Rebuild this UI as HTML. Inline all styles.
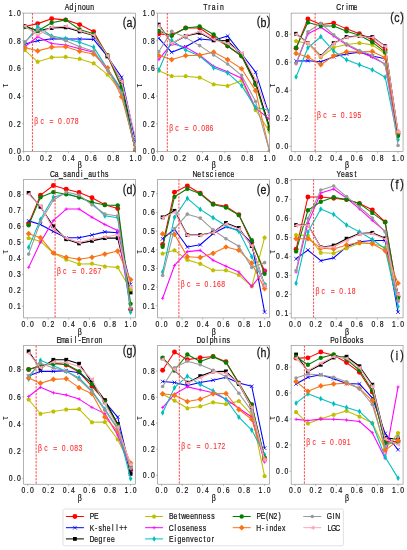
<!DOCTYPE html>
<html lang="en"><head><meta charset="utf-8"><title>Centrality comparison</title>
<style>html,body{margin:0;padding:0;background:#fff}svg{display:block}</style></head>
<body>
<svg width="407" height="550" viewBox="0 0 407 550" font-family='"Liberation Sans", "Noto Sans CJK SC", sans-serif'>
<rect width="407" height="550" fill="#fff"/>
<g id="panel-a">
<clipPath id="cpa"><rect x="23.7" y="13.1" width="111.90" height="138.40"/></clipPath>
<g clip-path="url(#cpa)">
<polyline points="24.82,26.52 37.69,23.62 51.67,18.64 65.66,19.88 79.65,24.59 93.64,31.65 107.62,56.00 121.61,87.84 135.60,151.50" fill="none" stroke="#ff0000" stroke-width="1.08" stroke-linejoin="round"/>
<circle cx="24.82" cy="26.52" r="2.45" fill="#ff0000"/>
<circle cx="37.69" cy="23.62" r="2.45" fill="#ff0000"/>
<circle cx="51.67" cy="18.64" r="2.45" fill="#ff0000"/>
<circle cx="65.66" cy="19.88" r="2.45" fill="#ff0000"/>
<circle cx="79.65" cy="24.59" r="2.45" fill="#ff0000"/>
<circle cx="93.64" cy="31.65" r="2.45" fill="#ff0000"/>
<circle cx="107.62" cy="56.00" r="2.45" fill="#ff0000"/>
<circle cx="121.61" cy="87.84" r="2.45" fill="#ff0000"/>
<circle cx="135.60" cy="151.50" r="2.45" fill="#ff0000"/>
<polyline points="24.82,43.96 37.69,40.78 51.67,38.70 65.66,38.98 79.65,38.98 93.64,39.40 107.62,56.70 121.61,77.18 135.60,141.81" fill="none" stroke="#0000ff" stroke-width="1.08" stroke-linejoin="round"/>
<path d="M23.02 42.16L26.62 45.76M23.02 45.76L26.62 42.16" stroke="#0000ff" stroke-width="0.8" fill="none"/>
<path d="M35.89 38.98L39.49 42.58M35.89 42.58L39.49 38.98" stroke="#0000ff" stroke-width="0.8" fill="none"/>
<path d="M49.88 36.90L53.47 40.50M49.88 40.50L53.47 36.90" stroke="#0000ff" stroke-width="0.8" fill="none"/>
<path d="M63.86 37.18L67.46 40.78M63.86 40.78L67.46 37.18" stroke="#0000ff" stroke-width="0.8" fill="none"/>
<path d="M77.85 37.18L81.45 40.78M77.85 40.78L81.45 37.18" stroke="#0000ff" stroke-width="0.8" fill="none"/>
<path d="M91.84 37.60L95.44 41.20M91.84 41.20L95.44 37.60" stroke="#0000ff" stroke-width="0.8" fill="none"/>
<path d="M105.83 54.90L109.42 58.50M105.83 58.50L109.42 54.90" stroke="#0000ff" stroke-width="0.8" fill="none"/>
<path d="M119.81 75.38L123.41 78.98M119.81 78.98L123.41 75.38" stroke="#0000ff" stroke-width="0.8" fill="none"/>
<path d="M133.80 140.01L137.40 143.61M133.80 143.61L137.40 140.01" stroke="#0000ff" stroke-width="0.8" fill="none"/>
<polyline points="24.82,26.11 37.69,30.68 51.67,28.05 65.66,27.36 79.65,31.37 93.64,35.52 107.62,56.28 121.61,81.61 135.60,151.50" fill="none" stroke="#000000" stroke-width="1.08" stroke-linejoin="round"/>
<rect x="22.92" y="24.21" width="3.80" height="3.80" fill="#000000"/>
<rect x="35.79" y="28.78" width="3.80" height="3.80" fill="#000000"/>
<rect x="49.77" y="26.15" width="3.80" height="3.80" fill="#000000"/>
<rect x="63.76" y="25.46" width="3.80" height="3.80" fill="#000000"/>
<rect x="77.75" y="29.47" width="3.80" height="3.80" fill="#000000"/>
<rect x="91.74" y="33.62" width="3.80" height="3.80" fill="#000000"/>
<rect x="105.72" y="54.38" width="3.80" height="3.80" fill="#000000"/>
<rect x="119.71" y="79.71" width="3.80" height="3.80" fill="#000000"/>
<rect x="133.70" y="149.60" width="3.80" height="3.80" fill="#000000"/>
<polyline points="24.82,50.05 37.69,61.82 51.67,57.39 65.66,56.97 79.65,58.91 93.64,63.34 107.62,74.69 121.61,91.99 135.60,151.50" fill="none" stroke="#bfbf00" stroke-width="1.08" stroke-linejoin="round"/>
<polygon points="24.82,47.70 27.05,49.33 26.20,51.95 23.44,51.95 22.58,49.33" fill="#bfbf00"/>
<polygon points="37.69,59.47 39.92,61.09 39.07,63.72 36.31,63.72 35.45,61.09" fill="#bfbf00"/>
<polygon points="51.67,55.04 53.91,56.66 53.06,59.29 50.29,59.29 49.44,56.66" fill="#bfbf00"/>
<polygon points="65.66,54.62 67.90,56.25 67.04,58.87 64.28,58.87 63.43,56.25" fill="#bfbf00"/>
<polygon points="79.65,56.56 81.88,58.18 81.03,60.81 78.27,60.81 77.42,58.18" fill="#bfbf00"/>
<polygon points="93.64,60.99 95.87,62.61 95.02,65.24 92.26,65.24 91.40,62.61" fill="#bfbf00"/>
<polygon points="107.62,72.34 109.86,73.96 109.01,76.59 106.24,76.59 105.39,73.96" fill="#bfbf00"/>
<polygon points="121.61,89.64 123.85,91.26 122.99,93.89 120.23,93.89 119.38,91.26" fill="#bfbf00"/>
<polygon points="135.60,149.15 137.83,150.77 136.98,153.40 134.22,153.40 133.37,150.77" fill="#bfbf00"/>
<polyline points="24.82,46.73 37.69,36.77 51.67,43.55 65.66,44.93 79.65,48.67 93.64,52.27 107.62,70.67 121.61,90.60 135.60,151.50" fill="none" stroke="#ff00ff" stroke-width="1.08" stroke-linejoin="round"/>
<path d="M23.12 46.73L26.52 46.73M24.82 45.03L24.82 48.43" stroke="#ff00ff" stroke-width="0.8" fill="none"/>
<path d="M35.99 36.77L39.39 36.77M37.69 35.07L37.69 38.47" stroke="#ff00ff" stroke-width="0.8" fill="none"/>
<path d="M49.97 43.55L53.38 43.55M51.67 41.85L51.67 45.25" stroke="#ff00ff" stroke-width="0.8" fill="none"/>
<path d="M63.96 44.93L67.36 44.93M65.66 43.23L65.66 46.63" stroke="#ff00ff" stroke-width="0.8" fill="none"/>
<path d="M77.95 48.67L81.35 48.67M79.65 46.97L79.65 50.37" stroke="#ff00ff" stroke-width="0.8" fill="none"/>
<path d="M91.94 52.27L95.34 52.27M93.64 50.57L93.64 53.97" stroke="#ff00ff" stroke-width="0.8" fill="none"/>
<path d="M105.92 70.67L109.33 70.67M107.62 68.97L107.62 72.37" stroke="#ff00ff" stroke-width="0.8" fill="none"/>
<path d="M119.91 90.60L123.31 90.60M121.61 88.90L121.61 92.30" stroke="#ff00ff" stroke-width="0.8" fill="none"/>
<path d="M133.90 151.50L137.30 151.50M135.60 149.80L135.60 153.20" stroke="#ff00ff" stroke-width="0.8" fill="none"/>
<polyline points="24.82,42.72 37.69,26.52 51.67,36.07 65.66,38.70 79.65,42.16 93.64,47.15 107.62,69.15 121.61,89.22 135.60,151.50" fill="none" stroke="#00bfbf" stroke-width="1.08" stroke-linejoin="round"/>
<polygon points="24.82,39.82 26.57,42.72 24.82,45.62 23.07,42.72" fill="#00bfbf"/>
<polygon points="37.69,23.62 39.44,26.52 37.69,29.42 35.94,26.52" fill="#00bfbf"/>
<polygon points="51.67,33.17 53.42,36.07 51.67,38.97 49.92,36.07" fill="#00bfbf"/>
<polygon points="65.66,35.80 67.41,38.70 65.66,41.60 63.91,38.70" fill="#00bfbf"/>
<polygon points="79.65,39.26 81.40,42.16 79.65,45.06 77.90,42.16" fill="#00bfbf"/>
<polygon points="93.64,44.25 95.39,47.15 93.64,50.05 91.89,47.15" fill="#00bfbf"/>
<polygon points="107.62,66.25 109.38,69.15 107.62,72.05 105.88,69.15" fill="#00bfbf"/>
<polygon points="121.61,86.32 123.36,89.22 121.61,92.12 119.86,89.22" fill="#00bfbf"/>
<polygon points="135.60,148.60 137.35,151.50 135.60,154.40 133.85,151.50" fill="#00bfbf"/>
<polyline points="24.82,26.94 37.69,30.95 51.67,22.79 65.66,19.88 79.65,29.43 93.64,33.86 107.62,55.31 121.61,86.87 135.60,151.50" fill="none" stroke="#008000" stroke-width="1.08" stroke-linejoin="round"/>
<circle cx="24.82" cy="26.94" r="2.20" fill="#008000"/>
<circle cx="37.69" cy="30.95" r="2.20" fill="#008000"/>
<circle cx="51.67" cy="22.79" r="2.20" fill="#008000"/>
<circle cx="65.66" cy="19.88" r="2.20" fill="#008000"/>
<circle cx="79.65" cy="29.43" r="2.20" fill="#008000"/>
<circle cx="93.64" cy="33.86" r="2.20" fill="#008000"/>
<circle cx="107.62" cy="55.31" r="2.20" fill="#008000"/>
<circle cx="121.61" cy="86.87" r="2.20" fill="#008000"/>
<circle cx="135.60" cy="151.50" r="2.20" fill="#008000"/>
<polyline points="24.82,47.56 37.69,50.88 51.67,47.15 65.66,46.73 79.65,51.16 93.64,54.07 107.62,67.77 121.61,96.83 135.60,148.73" fill="none" stroke="#f97316" stroke-width="1.08" stroke-linejoin="round"/>
<polygon points="24.82,44.71 27.67,47.56 24.82,50.41 21.97,47.56" fill="#f97316"/>
<polygon points="37.69,48.03 40.54,50.88 37.69,53.73 34.84,50.88" fill="#f97316"/>
<polygon points="51.67,44.30 54.52,47.15 51.67,50.00 48.82,47.15" fill="#f97316"/>
<polygon points="65.66,43.88 68.51,46.73 65.66,49.58 62.81,46.73" fill="#f97316"/>
<polygon points="79.65,48.31 82.50,51.16 79.65,54.01 76.80,51.16" fill="#f97316"/>
<polygon points="93.64,51.22 96.49,54.07 93.64,56.92 90.79,54.07" fill="#f97316"/>
<polygon points="107.62,64.92 110.47,67.77 107.62,70.62 104.78,67.77" fill="#f97316"/>
<polygon points="121.61,93.98 124.46,96.83 121.61,99.68 118.76,96.83" fill="#f97316"/>
<polygon points="135.60,145.88 138.45,148.73 135.60,151.58 132.75,148.73" fill="#f97316"/>
<polyline points="24.82,42.16 37.69,29.85 51.67,36.77 65.66,40.78 79.65,46.73 93.64,51.16 107.62,69.98 121.61,92.68 135.60,151.50" fill="none" stroke="#999999" stroke-width="1.08" stroke-linejoin="round"/>
<circle cx="24.82" cy="42.16" r="1.80" fill="#999999"/>
<circle cx="37.69" cy="29.85" r="1.80" fill="#999999"/>
<circle cx="51.67" cy="36.77" r="1.80" fill="#999999"/>
<circle cx="65.66" cy="40.78" r="1.80" fill="#999999"/>
<circle cx="79.65" cy="46.73" r="1.80" fill="#999999"/>
<circle cx="93.64" cy="51.16" r="1.80" fill="#999999"/>
<circle cx="107.62" cy="69.98" r="1.80" fill="#999999"/>
<circle cx="121.61" cy="92.68" r="1.80" fill="#999999"/>
<circle cx="135.60" cy="151.50" r="1.80" fill="#999999"/>
<polyline points="24.82,26.11 37.69,35.24 51.67,26.94 65.66,26.25 79.65,30.82 93.64,34.97 107.62,55.73 121.61,81.61 135.60,137.66" fill="none" stroke="#ffa3b8" stroke-width="1.08" stroke-linejoin="round"/>
<polygon points="22.57,26.11 26.84,23.86 26.84,28.36" fill="#ffa3b8"/>
<polygon points="35.44,35.24 39.71,32.99 39.71,37.49" fill="#ffa3b8"/>
<polygon points="49.42,26.94 53.70,24.69 53.70,29.19" fill="#ffa3b8"/>
<polygon points="63.41,26.25 67.69,24.00 67.69,28.50" fill="#ffa3b8"/>
<polygon points="77.40,30.82 81.67,28.57 81.67,33.07" fill="#ffa3b8"/>
<polygon points="91.39,34.97 95.66,32.72 95.66,37.22" fill="#ffa3b8"/>
<polygon points="105.38,55.73 109.65,53.48 109.65,57.98" fill="#ffa3b8"/>
<polygon points="119.36,81.61 123.64,79.36 123.64,83.86" fill="#ffa3b8"/>
<polygon points="133.35,137.66 137.62,135.41 137.62,139.91" fill="#ffa3b8"/>
<line x1="32.43" y1="13.1" x2="32.43" y2="151.5" stroke="#ff3030" stroke-width="0.9" stroke-dasharray="2.2 1.2"/>
</g>
<rect x="23.7" y="13.1" width="111.90" height="138.40" fill="none" stroke="#808080" stroke-width="0.6"/>
<line x1="23.70" y1="151.5" x2="23.70" y2="153.3" stroke="#808080" stroke-width="0.5"/>
<text transform="scale(0.81 1)" x="24.11 29.26 34.41" y="160.60" font-size="8.4" text-anchor="middle" fill="#141414" stroke="#141414" stroke-width="0.22" >0.0</text>
<line x1="46.08" y1="151.5" x2="46.08" y2="153.3" stroke="#808080" stroke-width="0.5"/>
<text transform="scale(0.81 1)" x="51.74 56.89 62.04" y="160.60" font-size="8.4" text-anchor="middle" fill="#141414" stroke="#141414" stroke-width="0.22" >0.2</text>
<line x1="68.46" y1="151.5" x2="68.46" y2="153.3" stroke="#808080" stroke-width="0.5"/>
<text transform="scale(0.81 1)" x="79.37 84.52 89.67" y="160.60" font-size="8.4" text-anchor="middle" fill="#141414" stroke="#141414" stroke-width="0.22" >0.4</text>
<line x1="90.84" y1="151.5" x2="90.84" y2="153.3" stroke="#808080" stroke-width="0.5"/>
<text transform="scale(0.81 1)" x="107.00 112.15 117.30" y="160.60" font-size="8.4" text-anchor="middle" fill="#141414" stroke="#141414" stroke-width="0.22" >0.6</text>
<line x1="113.22" y1="151.5" x2="113.22" y2="153.3" stroke="#808080" stroke-width="0.5"/>
<text transform="scale(0.81 1)" x="134.63 139.78 144.93" y="160.60" font-size="8.4" text-anchor="middle" fill="#141414" stroke="#141414" stroke-width="0.22" >0.8</text>
<line x1="135.60" y1="151.5" x2="135.60" y2="153.3" stroke="#808080" stroke-width="0.5"/>
<text transform="scale(0.81 1)" x="162.26 167.41 172.56" y="160.60" font-size="8.4" text-anchor="middle" fill="#141414" stroke="#141414" stroke-width="0.22" >1.0</text>
<line x1="21.9" y1="151.50" x2="23.7" y2="151.50" stroke="#808080" stroke-width="0.5"/>
<text transform="scale(0.81 1)" x="13.06 18.20 23.35" y="154.40" font-size="8.4" text-anchor="middle" fill="#141414" stroke="#141414" stroke-width="0.22" >0.0</text>
<line x1="21.9" y1="123.82" x2="23.7" y2="123.82" stroke="#808080" stroke-width="0.5"/>
<text transform="scale(0.81 1)" x="13.06 18.20 23.35" y="126.72" font-size="8.4" text-anchor="middle" fill="#141414" stroke="#141414" stroke-width="0.22" >0.2</text>
<line x1="21.9" y1="96.14" x2="23.7" y2="96.14" stroke="#808080" stroke-width="0.5"/>
<text transform="scale(0.81 1)" x="13.06 18.20 23.35" y="99.04" font-size="8.4" text-anchor="middle" fill="#141414" stroke="#141414" stroke-width="0.22" >0.4</text>
<line x1="21.9" y1="68.46" x2="23.7" y2="68.46" stroke="#808080" stroke-width="0.5"/>
<text transform="scale(0.81 1)" x="13.06 18.20 23.35" y="71.36" font-size="8.4" text-anchor="middle" fill="#141414" stroke="#141414" stroke-width="0.22" >0.6</text>
<line x1="21.9" y1="40.78" x2="23.7" y2="40.78" stroke="#808080" stroke-width="0.5"/>
<text transform="scale(0.81 1)" x="13.06 18.20 23.35" y="43.68" font-size="8.4" text-anchor="middle" fill="#141414" stroke="#141414" stroke-width="0.22" >0.8</text>
<line x1="21.9" y1="13.10" x2="23.7" y2="13.10" stroke="#808080" stroke-width="0.5"/>
<text transform="scale(0.81 1)" x="13.06 18.20 23.35" y="16.00" font-size="8.4" text-anchor="middle" fill="#141414" stroke="#141414" stroke-width="0.22" >1.0</text>
<text transform="scale(0.81 1)" x="82.89 88.04 93.19 98.33 103.48 108.63 113.78" y="10.40" font-size="8.4" text-anchor="middle" fill="#141414" stroke="#141414" stroke-width="0.22" >Adjnoun</text>
<text transform="scale(0.81 1)" x="98.33" y="168.50" font-size="8.6" text-anchor="middle" fill="#141414" stroke="#141414" stroke-width="0.22" >β</text>
<text transform="translate(7.70,85.60) rotate(-90)" font-size="8.4" text-anchor="middle" fill="#141414">τ</text>
<text transform="scale(0.86 1)" x="144.71 150.52 156.34" y="25.60 26.70 25.60" font-size="12.3" text-anchor="middle" fill="#141414" stroke="#141414" stroke-width="0.25" >(a)</text>
<text transform="scale(0.81 1)" x="44.69 52.04 58.55 63.70 68.84 73.99 79.14 84.29 89.44 94.58" y="123.80" font-size="8.4" text-anchor="middle" fill="#ff3030" stroke="#ff3030" stroke-width="0.12" >βc = 0.078</text>
</g>
<g id="panel-b">
<clipPath id="cpb"><rect x="157.7" y="13.1" width="111.90" height="138.40"/></clipPath>
<g clip-path="url(#cpb)">
<polyline points="158.82,33.86 171.69,34.97 185.68,28.05 199.66,28.05 213.65,37.60 227.64,46.04 241.62,56.00 255.61,83.68 269.60,127.97" fill="none" stroke="#ff0000" stroke-width="1.08" stroke-linejoin="round"/>
<circle cx="158.82" cy="33.86" r="2.45" fill="#ff0000"/>
<circle cx="171.69" cy="34.97" r="2.45" fill="#ff0000"/>
<circle cx="185.68" cy="28.05" r="2.45" fill="#ff0000"/>
<circle cx="199.66" cy="28.05" r="2.45" fill="#ff0000"/>
<circle cx="213.65" cy="37.60" r="2.45" fill="#ff0000"/>
<circle cx="227.64" cy="46.04" r="2.45" fill="#ff0000"/>
<circle cx="241.62" cy="56.00" r="2.45" fill="#ff0000"/>
<circle cx="255.61" cy="83.68" r="2.45" fill="#ff0000"/>
<circle cx="269.60" cy="127.97" r="2.45" fill="#ff0000"/>
<polyline points="158.82,38.29 171.69,52.27 185.68,46.73 199.66,38.98 213.65,40.23 227.64,36.07 241.62,53.79 255.61,72.20 269.60,116.35" fill="none" stroke="#0000ff" stroke-width="1.08" stroke-linejoin="round"/>
<path d="M157.02 36.49L160.62 40.09M157.02 40.09L160.62 36.49" stroke="#0000ff" stroke-width="0.8" fill="none"/>
<path d="M169.89 50.47L173.49 54.07M169.89 54.07L173.49 50.47" stroke="#0000ff" stroke-width="0.8" fill="none"/>
<path d="M183.88 44.93L187.48 48.53M183.88 48.53L187.48 44.93" stroke="#0000ff" stroke-width="0.8" fill="none"/>
<path d="M197.86 37.18L201.46 40.78M197.86 40.78L201.46 37.18" stroke="#0000ff" stroke-width="0.8" fill="none"/>
<path d="M211.85 38.43L215.45 42.03M211.85 42.03L215.45 38.43" stroke="#0000ff" stroke-width="0.8" fill="none"/>
<path d="M225.84 34.27L229.44 37.87M225.84 37.87L229.44 34.27" stroke="#0000ff" stroke-width="0.8" fill="none"/>
<path d="M239.82 51.99L243.43 55.59M239.82 55.59L243.43 51.99" stroke="#0000ff" stroke-width="0.8" fill="none"/>
<path d="M253.81 70.40L257.41 74.00M253.81 74.00L257.41 70.40" stroke="#0000ff" stroke-width="0.8" fill="none"/>
<path d="M267.80 114.55L271.40 118.15M267.80 118.15L271.40 114.55" stroke="#0000ff" stroke-width="0.8" fill="none"/>
<polyline points="158.82,24.59 171.69,43.41 185.68,36.07 199.66,32.89 213.65,40.36 227.64,40.78 241.62,54.62 255.61,82.30 269.60,127.28" fill="none" stroke="#000000" stroke-width="1.08" stroke-linejoin="round"/>
<rect x="156.92" y="22.69" width="3.80" height="3.80" fill="#000000"/>
<rect x="169.79" y="41.51" width="3.80" height="3.80" fill="#000000"/>
<rect x="183.78" y="34.17" width="3.80" height="3.80" fill="#000000"/>
<rect x="197.76" y="30.99" width="3.80" height="3.80" fill="#000000"/>
<rect x="211.75" y="38.46" width="3.80" height="3.80" fill="#000000"/>
<rect x="225.74" y="38.88" width="3.80" height="3.80" fill="#000000"/>
<rect x="239.72" y="52.72" width="3.80" height="3.80" fill="#000000"/>
<rect x="253.71" y="80.40" width="3.80" height="3.80" fill="#000000"/>
<rect x="267.70" y="125.38" width="3.80" height="3.80" fill="#000000"/>
<polyline points="158.82,70.67 171.69,76.21 185.68,76.21 199.66,77.59 213.65,84.38 227.64,85.90 241.62,80.50 255.61,109.98 269.60,131.71" fill="none" stroke="#bfbf00" stroke-width="1.08" stroke-linejoin="round"/>
<polygon points="158.82,68.32 161.05,69.95 160.20,72.58 157.44,72.58 156.58,69.95" fill="#bfbf00"/>
<polygon points="171.69,73.86 173.92,75.48 173.07,78.11 170.31,78.11 169.45,75.48" fill="#bfbf00"/>
<polygon points="185.68,73.86 187.91,75.48 187.06,78.11 184.29,78.11 183.44,75.48" fill="#bfbf00"/>
<polygon points="199.66,75.24 201.90,76.87 201.04,79.50 198.28,79.50 197.43,76.87" fill="#bfbf00"/>
<polygon points="213.65,82.03 215.88,83.65 215.03,86.28 212.27,86.28 211.42,83.65" fill="#bfbf00"/>
<polygon points="227.64,83.55 229.87,85.17 229.02,87.80 226.26,87.80 225.40,85.17" fill="#bfbf00"/>
<polygon points="241.62,78.15 243.86,79.77 243.01,82.40 240.24,82.40 239.39,79.77" fill="#bfbf00"/>
<polygon points="255.61,107.63 257.85,109.25 256.99,111.88 254.23,111.88 253.38,109.25" fill="#bfbf00"/>
<polygon points="269.60,129.36 271.83,130.98 270.98,133.61 268.22,133.61 267.37,130.98" fill="#bfbf00"/>
<polyline points="158.82,59.60 171.69,43.55 185.68,47.15 199.66,55.17 213.65,66.25 227.64,71.78 241.62,78.15 255.61,108.18 269.60,119.25" fill="none" stroke="#ff00ff" stroke-width="1.08" stroke-linejoin="round"/>
<path d="M157.12 59.60L160.52 59.60M158.82 57.90L158.82 61.30" stroke="#ff00ff" stroke-width="0.8" fill="none"/>
<path d="M169.99 43.55L173.39 43.55M171.69 41.85L171.69 45.25" stroke="#ff00ff" stroke-width="0.8" fill="none"/>
<path d="M183.98 47.15L187.38 47.15M185.68 45.45L185.68 48.85" stroke="#ff00ff" stroke-width="0.8" fill="none"/>
<path d="M197.96 55.17L201.36 55.17M199.66 53.47L199.66 56.87" stroke="#ff00ff" stroke-width="0.8" fill="none"/>
<path d="M211.95 66.25L215.35 66.25M213.65 64.55L213.65 67.95" stroke="#ff00ff" stroke-width="0.8" fill="none"/>
<path d="M225.94 71.78L229.34 71.78M227.64 70.08L227.64 73.48" stroke="#ff00ff" stroke-width="0.8" fill="none"/>
<path d="M239.93 78.15L243.32 78.15M241.62 76.45L241.62 79.85" stroke="#ff00ff" stroke-width="0.8" fill="none"/>
<path d="M253.91 108.18L257.31 108.18M255.61 106.48L255.61 109.88" stroke="#ff00ff" stroke-width="0.8" fill="none"/>
<path d="M267.90 119.25L271.30 119.25M269.60 117.55L269.60 120.95" stroke="#ff00ff" stroke-width="0.8" fill="none"/>
<polyline points="158.82,69.98 171.69,40.23 185.68,50.05 199.66,56.00 213.65,67.77 227.64,72.89 241.62,85.62 255.61,107.49 269.60,110.40" fill="none" stroke="#00bfbf" stroke-width="1.08" stroke-linejoin="round"/>
<polygon points="158.82,67.08 160.57,69.98 158.82,72.88 157.07,69.98" fill="#00bfbf"/>
<polygon points="171.69,37.33 173.44,40.23 171.69,43.13 169.94,40.23" fill="#00bfbf"/>
<polygon points="185.68,47.15 187.43,50.05 185.68,52.95 183.93,50.05" fill="#00bfbf"/>
<polygon points="199.66,53.10 201.41,56.00 199.66,58.90 197.91,56.00" fill="#00bfbf"/>
<polygon points="213.65,64.87 215.40,67.77 213.65,70.67 211.90,67.77" fill="#00bfbf"/>
<polygon points="227.64,69.99 229.39,72.89 227.64,75.79 225.89,72.89" fill="#00bfbf"/>
<polygon points="241.62,82.72 243.38,85.62 241.62,88.52 239.88,85.62" fill="#00bfbf"/>
<polygon points="255.61,104.59 257.36,107.49 255.61,110.39 253.86,107.49" fill="#00bfbf"/>
<polygon points="269.60,107.50 271.35,110.40 269.60,113.30 267.85,110.40" fill="#00bfbf"/>
<polyline points="158.82,30.95 171.69,35.80 185.68,28.05 199.66,26.52 213.65,34.55 227.64,46.04 241.62,56.00 255.61,84.65 269.60,129.36" fill="none" stroke="#008000" stroke-width="1.08" stroke-linejoin="round"/>
<circle cx="158.82" cy="30.95" r="2.20" fill="#008000"/>
<circle cx="171.69" cy="35.80" r="2.20" fill="#008000"/>
<circle cx="185.68" cy="28.05" r="2.20" fill="#008000"/>
<circle cx="199.66" cy="26.52" r="2.20" fill="#008000"/>
<circle cx="213.65" cy="34.55" r="2.20" fill="#008000"/>
<circle cx="227.64" cy="46.04" r="2.20" fill="#008000"/>
<circle cx="241.62" cy="56.00" r="2.20" fill="#008000"/>
<circle cx="255.61" cy="84.65" r="2.20" fill="#008000"/>
<circle cx="269.60" cy="129.36" r="2.20" fill="#008000"/>
<polyline points="158.82,55.59 171.69,59.60 185.68,55.59 199.66,55.17 213.65,52.13 227.64,59.60 241.62,68.74 255.61,90.60 269.60,151.50" fill="none" stroke="#f97316" stroke-width="1.08" stroke-linejoin="round"/>
<polygon points="158.82,52.74 161.67,55.59 158.82,58.44 155.97,55.59" fill="#f97316"/>
<polygon points="171.69,56.75 174.54,59.60 171.69,62.45 168.84,59.60" fill="#f97316"/>
<polygon points="185.68,52.74 188.53,55.59 185.68,58.44 182.83,55.59" fill="#f97316"/>
<polygon points="199.66,52.32 202.51,55.17 199.66,58.02 196.81,55.17" fill="#f97316"/>
<polygon points="213.65,49.28 216.50,52.13 213.65,54.98 210.80,52.13" fill="#f97316"/>
<polygon points="227.64,56.75 230.49,59.60 227.64,62.45 224.79,59.60" fill="#f97316"/>
<polygon points="241.62,65.89 244.47,68.74 241.62,71.59 238.78,68.74" fill="#f97316"/>
<polygon points="255.61,87.75 258.46,90.60 255.61,93.45 252.76,90.60" fill="#f97316"/>
<polygon points="269.60,148.65 272.45,151.50 269.60,154.35 266.75,151.50" fill="#f97316"/>
<polyline points="158.82,51.58 171.69,31.37 185.68,37.60 199.66,45.62 213.65,54.90 227.64,64.03 241.62,75.38 255.61,101.54 269.60,151.50" fill="none" stroke="#999999" stroke-width="1.08" stroke-linejoin="round"/>
<circle cx="158.82" cy="51.58" r="1.80" fill="#999999"/>
<circle cx="171.69" cy="31.37" r="1.80" fill="#999999"/>
<circle cx="185.68" cy="37.60" r="1.80" fill="#999999"/>
<circle cx="199.66" cy="45.62" r="1.80" fill="#999999"/>
<circle cx="213.65" cy="54.90" r="1.80" fill="#999999"/>
<circle cx="227.64" cy="64.03" r="1.80" fill="#999999"/>
<circle cx="241.62" cy="75.38" r="1.80" fill="#999999"/>
<circle cx="255.61" cy="101.54" r="1.80" fill="#999999"/>
<circle cx="269.60" cy="151.50" r="1.80" fill="#999999"/>
<polyline points="158.82,25.56 171.69,43.41 185.68,35.52 199.66,31.65 213.65,39.53 227.64,43.55 241.62,53.10 255.61,79.81 269.60,116.90" fill="none" stroke="#ffa3b8" stroke-width="1.08" stroke-linejoin="round"/>
<polygon points="156.57,25.56 160.84,23.31 160.84,27.81" fill="#ffa3b8"/>
<polygon points="169.44,43.41 173.71,41.16 173.71,45.66" fill="#ffa3b8"/>
<polygon points="183.43,35.52 187.70,33.27 187.70,37.77" fill="#ffa3b8"/>
<polygon points="197.41,31.65 201.69,29.40 201.69,33.90" fill="#ffa3b8"/>
<polygon points="211.40,39.53 215.68,37.28 215.68,41.78" fill="#ffa3b8"/>
<polygon points="225.39,43.55 229.66,41.30 229.66,45.80" fill="#ffa3b8"/>
<polygon points="239.38,53.10 243.65,50.85 243.65,55.35" fill="#ffa3b8"/>
<polygon points="253.36,79.81 257.64,77.56 257.64,82.06" fill="#ffa3b8"/>
<polygon points="267.35,116.90 271.62,114.65 271.62,119.15" fill="#ffa3b8"/>
<line x1="167.32" y1="13.1" x2="167.32" y2="151.5" stroke="#ff3030" stroke-width="0.9" stroke-dasharray="2.2 1.2"/>
</g>
<rect x="157.7" y="13.1" width="111.90" height="138.40" fill="none" stroke="#808080" stroke-width="0.6"/>
<line x1="157.70" y1="151.5" x2="157.70" y2="153.3" stroke="#808080" stroke-width="0.5"/>
<text transform="scale(0.81 1)" x="189.54 194.69 199.84" y="160.60" font-size="8.4" text-anchor="middle" fill="#141414" stroke="#141414" stroke-width="0.22" >0.0</text>
<line x1="180.08" y1="151.5" x2="180.08" y2="153.3" stroke="#808080" stroke-width="0.5"/>
<text transform="scale(0.81 1)" x="217.17 222.32 227.47" y="160.60" font-size="8.4" text-anchor="middle" fill="#141414" stroke="#141414" stroke-width="0.22" >0.2</text>
<line x1="202.46" y1="151.5" x2="202.46" y2="153.3" stroke="#808080" stroke-width="0.5"/>
<text transform="scale(0.81 1)" x="244.80 249.95 255.10" y="160.60" font-size="8.4" text-anchor="middle" fill="#141414" stroke="#141414" stroke-width="0.22" >0.4</text>
<line x1="224.84" y1="151.5" x2="224.84" y2="153.3" stroke="#808080" stroke-width="0.5"/>
<text transform="scale(0.81 1)" x="272.43 277.58 282.73" y="160.60" font-size="8.4" text-anchor="middle" fill="#141414" stroke="#141414" stroke-width="0.22" >0.6</text>
<line x1="247.22" y1="151.5" x2="247.22" y2="153.3" stroke="#808080" stroke-width="0.5"/>
<text transform="scale(0.81 1)" x="300.06 305.21 310.36" y="160.60" font-size="8.4" text-anchor="middle" fill="#141414" stroke="#141414" stroke-width="0.22" >0.8</text>
<line x1="269.60" y1="151.5" x2="269.60" y2="153.3" stroke="#808080" stroke-width="0.5"/>
<text transform="scale(0.81 1)" x="327.69 332.84 337.99" y="160.60" font-size="8.4" text-anchor="middle" fill="#141414" stroke="#141414" stroke-width="0.22" >1.0</text>
<line x1="155.89999999999998" y1="151.50" x2="157.7" y2="151.50" stroke="#808080" stroke-width="0.5"/>
<text transform="scale(0.81 1)" x="178.49 183.64 188.78" y="154.40" font-size="8.4" text-anchor="middle" fill="#141414" stroke="#141414" stroke-width="0.22" >0.0</text>
<line x1="155.89999999999998" y1="123.82" x2="157.7" y2="123.82" stroke="#808080" stroke-width="0.5"/>
<text transform="scale(0.81 1)" x="178.49 183.64 188.78" y="126.72" font-size="8.4" text-anchor="middle" fill="#141414" stroke="#141414" stroke-width="0.22" >0.2</text>
<line x1="155.89999999999998" y1="96.14" x2="157.7" y2="96.14" stroke="#808080" stroke-width="0.5"/>
<text transform="scale(0.81 1)" x="178.49 183.64 188.78" y="99.04" font-size="8.4" text-anchor="middle" fill="#141414" stroke="#141414" stroke-width="0.22" >0.4</text>
<line x1="155.89999999999998" y1="68.46" x2="157.7" y2="68.46" stroke="#808080" stroke-width="0.5"/>
<text transform="scale(0.81 1)" x="178.49 183.64 188.78" y="71.36" font-size="8.4" text-anchor="middle" fill="#141414" stroke="#141414" stroke-width="0.22" >0.6</text>
<line x1="155.89999999999998" y1="40.78" x2="157.7" y2="40.78" stroke="#808080" stroke-width="0.5"/>
<text transform="scale(0.81 1)" x="178.49 183.64 188.78" y="43.68" font-size="8.4" text-anchor="middle" fill="#141414" stroke="#141414" stroke-width="0.22" >0.8</text>
<line x1="155.89999999999998" y1="13.10" x2="157.7" y2="13.10" stroke="#808080" stroke-width="0.5"/>
<text transform="scale(0.81 1)" x="178.49 183.64 188.78" y="16.00" font-size="8.4" text-anchor="middle" fill="#141414" stroke="#141414" stroke-width="0.22" >1.0</text>
<text transform="scale(0.81 1)" x="253.47 258.62 263.77 268.91 274.06" y="10.40" font-size="8.4" text-anchor="middle" fill="#141414" stroke="#141414" stroke-width="0.22" >Train</text>
<text transform="scale(0.81 1)" x="263.77" y="168.50" font-size="8.6" text-anchor="middle" fill="#141414" stroke="#141414" stroke-width="0.22" >β</text>
<text transform="translate(141.70,85.60) rotate(-90)" font-size="8.4" text-anchor="middle" fill="#141414">τ</text>
<text transform="scale(0.86 1)" x="300.52 306.34 312.15" y="25.50 26.60 25.50" font-size="12.3" text-anchor="middle" fill="#141414" stroke="#141414" stroke-width="0.25" >(b)</text>
<text transform="scale(0.81 1)" x="211.23 218.58 225.08 230.23 235.38 240.53 245.68 250.83 255.97 261.12" y="130.90" font-size="8.4" text-anchor="middle" fill="#ff3030" stroke="#ff3030" stroke-width="0.12" >βc = 0.086</text>
</g>
<g id="panel-c">
<clipPath id="cpc"><rect x="291.15" y="13.1" width="111.90" height="138.40"/></clipPath>
<g clip-path="url(#cpc)">
<polyline points="296.08,48.22 307.92,19.06 320.80,24.53 333.67,23.12 346.55,28.87 359.42,33.78 372.30,39.67 385.17,49.90 398.05,133.74" fill="none" stroke="#ff0000" stroke-width="1.08" stroke-linejoin="round"/>
<circle cx="296.08" cy="48.22" r="2.45" fill="#ff0000"/>
<circle cx="307.92" cy="19.06" r="2.45" fill="#ff0000"/>
<circle cx="320.80" cy="24.53" r="2.45" fill="#ff0000"/>
<circle cx="333.67" cy="23.12" r="2.45" fill="#ff0000"/>
<circle cx="346.55" cy="28.87" r="2.45" fill="#ff0000"/>
<circle cx="359.42" cy="33.78" r="2.45" fill="#ff0000"/>
<circle cx="372.30" cy="39.67" r="2.45" fill="#ff0000"/>
<circle cx="385.17" cy="49.90" r="2.45" fill="#ff0000"/>
<circle cx="398.05" cy="133.74" r="2.45" fill="#ff0000"/>
<polyline points="296.08,60.98 307.92,60.70 320.80,61.82 333.67,56.63 346.55,53.97 359.42,52.14 372.30,55.93 385.17,58.73 398.05,135.14" fill="none" stroke="#0000ff" stroke-width="1.08" stroke-linejoin="round"/>
<path d="M294.28 59.18L297.88 62.78M294.28 62.78L297.88 59.18" stroke="#0000ff" stroke-width="0.8" fill="none"/>
<path d="M306.12 58.90L309.72 62.50M306.12 62.50L309.72 58.90" stroke="#0000ff" stroke-width="0.8" fill="none"/>
<path d="M319.00 60.02L322.60 63.62M319.00 63.62L322.60 60.02" stroke="#0000ff" stroke-width="0.8" fill="none"/>
<path d="M331.87 54.83L335.47 58.43M331.87 58.43L335.47 54.83" stroke="#0000ff" stroke-width="0.8" fill="none"/>
<path d="M344.75 52.17L348.35 55.77M344.75 55.77L348.35 52.17" stroke="#0000ff" stroke-width="0.8" fill="none"/>
<path d="M357.62 50.34L361.22 53.94M357.62 53.94L361.22 50.34" stroke="#0000ff" stroke-width="0.8" fill="none"/>
<path d="M370.50 54.13L374.10 57.73M370.50 57.73L374.10 54.13" stroke="#0000ff" stroke-width="0.8" fill="none"/>
<path d="M383.37 56.93L386.97 60.53M383.37 60.53L386.97 56.93" stroke="#0000ff" stroke-width="0.8" fill="none"/>
<path d="M396.25 133.34L399.85 136.94M396.25 136.94L399.85 133.34" stroke="#0000ff" stroke-width="0.8" fill="none"/>
<polyline points="296.08,33.78 307.92,42.89 320.80,55.93 333.67,43.17 346.55,37.00 359.42,35.88 372.30,37.00 385.17,46.12 398.05,132.34" fill="none" stroke="#000000" stroke-width="1.08" stroke-linejoin="round"/>
<rect x="294.18" y="31.88" width="3.80" height="3.80" fill="#000000"/>
<rect x="306.02" y="40.99" width="3.80" height="3.80" fill="#000000"/>
<rect x="318.90" y="54.03" width="3.80" height="3.80" fill="#000000"/>
<rect x="331.77" y="41.27" width="3.80" height="3.80" fill="#000000"/>
<rect x="344.65" y="35.10" width="3.80" height="3.80" fill="#000000"/>
<rect x="357.52" y="33.98" width="3.80" height="3.80" fill="#000000"/>
<rect x="370.40" y="35.10" width="3.80" height="3.80" fill="#000000"/>
<rect x="383.27" y="44.22" width="3.80" height="3.80" fill="#000000"/>
<rect x="396.15" y="130.44" width="3.80" height="3.80" fill="#000000"/>
<polyline points="296.08,41.21 307.92,43.31 320.80,57.33 333.67,47.52 346.55,44.57 359.42,43.03 372.30,44.85 385.17,53.69 398.05,135.14" fill="none" stroke="#bfbf00" stroke-width="1.08" stroke-linejoin="round"/>
<polygon points="296.08,38.86 298.31,40.48 297.46,43.11 294.70,43.11 293.85,40.48" fill="#bfbf00"/>
<polygon points="307.92,40.96 310.16,42.59 309.31,45.21 306.54,45.21 305.69,42.59" fill="#bfbf00"/>
<polygon points="320.80,54.98 323.03,56.61 322.18,59.23 319.42,59.23 318.57,56.61" fill="#bfbf00"/>
<polygon points="333.67,45.17 335.91,46.79 335.06,49.42 332.29,49.42 331.44,46.79" fill="#bfbf00"/>
<polygon points="346.55,42.22 348.78,43.85 347.93,46.47 345.17,46.47 344.32,43.85" fill="#bfbf00"/>
<polygon points="359.42,40.68 361.66,42.31 360.81,44.93 358.04,44.93 357.19,42.31" fill="#bfbf00"/>
<polygon points="372.30,42.50 374.53,44.13 373.68,46.76 370.92,46.76 370.07,44.13" fill="#bfbf00"/>
<polygon points="385.17,51.34 387.41,52.96 386.56,55.59 383.79,55.59 382.94,52.96" fill="#bfbf00"/>
<polygon points="398.05,132.79 400.28,134.41 399.43,137.04 396.67,137.04 395.82,134.41" fill="#bfbf00"/>
<polyline points="296.08,63.92 307.92,33.78 320.80,27.19 333.67,36.02 346.55,44.85 359.42,51.44 372.30,57.33 385.17,63.92 398.05,136.54" fill="none" stroke="#ff00ff" stroke-width="1.08" stroke-linejoin="round"/>
<path d="M294.38 63.92L297.78 63.92M296.08 62.22L296.08 65.62" stroke="#ff00ff" stroke-width="0.8" fill="none"/>
<path d="M306.22 33.78L309.62 33.78M307.92 32.08L307.92 35.48" stroke="#ff00ff" stroke-width="0.8" fill="none"/>
<path d="M319.10 27.19L322.50 27.19M320.80 25.49L320.80 28.89" stroke="#ff00ff" stroke-width="0.8" fill="none"/>
<path d="M331.97 36.02L335.37 36.02M333.67 34.32L333.67 37.72" stroke="#ff00ff" stroke-width="0.8" fill="none"/>
<path d="M344.85 44.85L348.25 44.85M346.55 43.15L346.55 46.55" stroke="#ff00ff" stroke-width="0.8" fill="none"/>
<path d="M357.72 51.44L361.12 51.44M359.42 49.74L359.42 53.14" stroke="#ff00ff" stroke-width="0.8" fill="none"/>
<path d="M370.60 57.33L374.00 57.33M372.30 55.63L372.30 59.03" stroke="#ff00ff" stroke-width="0.8" fill="none"/>
<path d="M383.47 63.92L386.87 63.92M385.17 62.22L385.17 65.62" stroke="#ff00ff" stroke-width="0.8" fill="none"/>
<path d="M396.35 136.54L399.75 136.54M398.05 134.84L398.05 138.24" stroke="#ff00ff" stroke-width="0.8" fill="none"/>
<polyline points="296.08,76.96 307.92,47.80 320.80,36.72 333.67,51.02 346.55,59.85 359.42,64.76 372.30,69.81 385.17,77.24 398.05,139.63" fill="none" stroke="#00bfbf" stroke-width="1.08" stroke-linejoin="round"/>
<polygon points="296.08,74.06 297.83,76.96 296.08,79.86 294.33,76.96" fill="#00bfbf"/>
<polygon points="307.92,44.90 309.67,47.80 307.92,50.70 306.17,47.80" fill="#00bfbf"/>
<polygon points="320.80,33.82 322.55,36.72 320.80,39.62 319.05,36.72" fill="#00bfbf"/>
<polygon points="333.67,48.12 335.42,51.02 333.67,53.92 331.92,51.02" fill="#00bfbf"/>
<polygon points="346.55,56.95 348.30,59.85 346.55,62.75 344.80,59.85" fill="#00bfbf"/>
<polygon points="359.42,61.86 361.17,64.76 359.42,67.66 357.67,64.76" fill="#00bfbf"/>
<polygon points="372.30,66.91 374.05,69.81 372.30,72.71 370.55,69.81" fill="#00bfbf"/>
<polygon points="385.17,74.34 386.92,77.24 385.17,80.14 383.42,77.24" fill="#00bfbf"/>
<polygon points="398.05,136.73 399.80,139.63 398.05,142.53 396.30,139.63" fill="#00bfbf"/>
<polyline points="296.08,47.80 307.92,22.42 320.80,25.93 333.67,25.93 346.55,31.26 359.42,35.18 372.30,42.19 385.17,52.14 398.05,135.70" fill="none" stroke="#008000" stroke-width="1.08" stroke-linejoin="round"/>
<circle cx="296.08" cy="47.80" r="2.20" fill="#008000"/>
<circle cx="307.92" cy="22.42" r="2.20" fill="#008000"/>
<circle cx="320.80" cy="25.93" r="2.20" fill="#008000"/>
<circle cx="333.67" cy="25.93" r="2.20" fill="#008000"/>
<circle cx="346.55" cy="31.26" r="2.20" fill="#008000"/>
<circle cx="359.42" cy="35.18" r="2.20" fill="#008000"/>
<circle cx="372.30" cy="42.19" r="2.20" fill="#008000"/>
<circle cx="385.17" cy="52.14" r="2.20" fill="#008000"/>
<circle cx="398.05" cy="135.70" r="2.20" fill="#008000"/>
<polyline points="296.08,53.41 307.92,56.91 320.80,64.76 333.67,55.79 346.55,51.86 359.42,51.86 372.30,51.44 385.17,57.75 398.05,131.77" fill="none" stroke="#f97316" stroke-width="1.08" stroke-linejoin="round"/>
<polygon points="296.08,50.56 298.93,53.41 296.08,56.26 293.23,53.41" fill="#f97316"/>
<polygon points="307.92,54.06 310.77,56.91 307.92,59.76 305.07,56.91" fill="#f97316"/>
<polygon points="320.80,61.91 323.65,64.76 320.80,67.61 317.95,64.76" fill="#f97316"/>
<polygon points="333.67,52.94 336.52,55.79 333.67,58.64 330.82,55.79" fill="#f97316"/>
<polygon points="346.55,49.01 349.40,51.86 346.55,54.71 343.70,51.86" fill="#f97316"/>
<polygon points="359.42,49.01 362.27,51.86 359.42,54.71 356.57,51.86" fill="#f97316"/>
<polygon points="372.30,48.59 375.15,51.44 372.30,54.29 369.45,51.44" fill="#f97316"/>
<polygon points="385.17,54.90 388.02,57.75 385.17,60.60 382.32,57.75" fill="#f97316"/>
<polygon points="398.05,128.92 400.90,131.77 398.05,134.62 395.20,131.77" fill="#f97316"/>
<polyline points="296.08,63.22 307.92,31.82 320.80,23.40 333.67,34.76 346.55,44.01 359.42,50.46 372.30,55.37 385.17,64.76 398.05,145.51" fill="none" stroke="#999999" stroke-width="1.08" stroke-linejoin="round"/>
<circle cx="296.08" cy="63.22" r="1.80" fill="#999999"/>
<circle cx="307.92" cy="31.82" r="1.80" fill="#999999"/>
<circle cx="320.80" cy="23.40" r="1.80" fill="#999999"/>
<circle cx="333.67" cy="34.76" r="1.80" fill="#999999"/>
<circle cx="346.55" cy="44.01" r="1.80" fill="#999999"/>
<circle cx="359.42" cy="50.46" r="1.80" fill="#999999"/>
<circle cx="372.30" cy="55.37" r="1.80" fill="#999999"/>
<circle cx="385.17" cy="64.76" r="1.80" fill="#999999"/>
<circle cx="398.05" cy="145.51" r="1.80" fill="#999999"/>
<polyline points="296.08,34.20 307.92,43.31 320.80,56.35 333.67,43.59 346.55,37.42 359.42,36.30 372.30,37.42 385.17,46.54 398.05,131.77" fill="none" stroke="#ffa3b8" stroke-width="1.08" stroke-linejoin="round"/>
<polygon points="293.83,34.20 298.10,31.95 298.10,36.45" fill="#ffa3b8"/>
<polygon points="305.67,43.31 309.95,41.06 309.95,45.56" fill="#ffa3b8"/>
<polygon points="318.55,56.35 322.82,54.10 322.82,58.60" fill="#ffa3b8"/>
<polygon points="331.42,43.59 335.70,41.34 335.70,45.84" fill="#ffa3b8"/>
<polygon points="344.30,37.42 348.57,35.17 348.57,39.67" fill="#ffa3b8"/>
<polygon points="357.17,36.30 361.45,34.05 361.45,38.55" fill="#ffa3b8"/>
<polygon points="370.05,37.42 374.32,35.17 374.32,39.67" fill="#ffa3b8"/>
<polygon points="382.92,46.54 387.20,44.29 387.20,48.79" fill="#ffa3b8"/>
<polygon points="395.80,131.77 400.07,129.52 400.07,134.02" fill="#ffa3b8"/>
<line x1="315.13" y1="13.1" x2="315.13" y2="151.5" stroke="#ff3030" stroke-width="0.9" stroke-dasharray="2.2 1.2"/>
</g>
<rect x="291.15" y="13.1" width="111.90" height="138.40" fill="none" stroke="#808080" stroke-width="0.6"/>
<line x1="295.05" y1="151.5" x2="295.05" y2="153.3" stroke="#808080" stroke-width="0.5"/>
<text transform="scale(0.81 1)" x="359.11 364.26 369.41" y="160.60" font-size="8.4" text-anchor="middle" fill="#141414" stroke="#141414" stroke-width="0.22" >0.0</text>
<line x1="315.65" y1="151.5" x2="315.65" y2="153.3" stroke="#808080" stroke-width="0.5"/>
<text transform="scale(0.81 1)" x="384.54 389.69 394.84" y="160.60" font-size="8.4" text-anchor="middle" fill="#141414" stroke="#141414" stroke-width="0.22" >0.2</text>
<line x1="336.25" y1="151.5" x2="336.25" y2="153.3" stroke="#808080" stroke-width="0.5"/>
<text transform="scale(0.81 1)" x="409.98 415.12 420.27" y="160.60" font-size="8.4" text-anchor="middle" fill="#141414" stroke="#141414" stroke-width="0.22" >0.4</text>
<line x1="356.85" y1="151.5" x2="356.85" y2="153.3" stroke="#808080" stroke-width="0.5"/>
<text transform="scale(0.81 1)" x="435.41 440.56 445.70" y="160.60" font-size="8.4" text-anchor="middle" fill="#141414" stroke="#141414" stroke-width="0.22" >0.6</text>
<line x1="377.45" y1="151.5" x2="377.45" y2="153.3" stroke="#808080" stroke-width="0.5"/>
<text transform="scale(0.81 1)" x="460.84 465.99 471.14" y="160.60" font-size="8.4" text-anchor="middle" fill="#141414" stroke="#141414" stroke-width="0.22" >0.8</text>
<line x1="398.05" y1="151.5" x2="398.05" y2="153.3" stroke="#808080" stroke-width="0.5"/>
<text transform="scale(0.81 1)" x="486.27 491.42 496.57" y="160.60" font-size="8.4" text-anchor="middle" fill="#141414" stroke="#141414" stroke-width="0.22" >1.0</text>
<line x1="289.34999999999997" y1="146.35" x2="291.15" y2="146.35" stroke="#808080" stroke-width="0.5"/>
<text transform="scale(0.81 1)" x="343.24 348.39 353.54" y="149.25" font-size="8.4" text-anchor="middle" fill="#141414" stroke="#141414" stroke-width="0.22" >0.0</text>
<line x1="289.34999999999997" y1="118.32" x2="291.15" y2="118.32" stroke="#808080" stroke-width="0.5"/>
<text transform="scale(0.81 1)" x="343.24 348.39 353.54" y="121.22" font-size="8.4" text-anchor="middle" fill="#141414" stroke="#141414" stroke-width="0.22" >0.2</text>
<line x1="289.34999999999997" y1="90.28" x2="291.15" y2="90.28" stroke="#808080" stroke-width="0.5"/>
<text transform="scale(0.81 1)" x="343.24 348.39 353.54" y="93.18" font-size="8.4" text-anchor="middle" fill="#141414" stroke="#141414" stroke-width="0.22" >0.4</text>
<line x1="289.34999999999997" y1="62.24" x2="291.15" y2="62.24" stroke="#808080" stroke-width="0.5"/>
<text transform="scale(0.81 1)" x="343.24 348.39 353.54" y="65.14" font-size="8.4" text-anchor="middle" fill="#141414" stroke="#141414" stroke-width="0.22" >0.6</text>
<line x1="289.34999999999997" y1="34.20" x2="291.15" y2="34.20" stroke="#808080" stroke-width="0.5"/>
<text transform="scale(0.81 1)" x="343.24 348.39 353.54" y="37.10" font-size="8.4" text-anchor="middle" fill="#141414" stroke="#141414" stroke-width="0.22" >0.8</text>
<text transform="scale(0.81 1)" x="418.22 423.37 428.52 433.67 438.81" y="10.40" font-size="8.4" text-anchor="middle" fill="#141414" stroke="#141414" stroke-width="0.22" >Crime</text>
<text transform="scale(0.81 1)" x="428.52" y="168.50" font-size="8.6" text-anchor="middle" fill="#141414" stroke="#141414" stroke-width="0.22" >β</text>
<text transform="translate(275.15,85.60) rotate(-90)" font-size="8.4" text-anchor="middle" fill="#141414">τ</text>
<text transform="scale(0.86 1)" x="455.70 461.51 467.33" y="20.80 21.90 20.80" font-size="12.3" text-anchor="middle" fill="#141414" stroke="#141414" stroke-width="0.25" >(c)</text>
<text transform="scale(0.81 1)" x="393.71 401.06 407.57 412.72 417.86 423.01 428.16 433.31 438.46 443.60" y="117.80" font-size="8.4" text-anchor="middle" fill="#ff3030" stroke="#ff3030" stroke-width="0.12" >βc = 0.195</text>
</g>
<g id="panel-d">
<clipPath id="cpd"><rect x="23.7" y="179.3" width="111.90" height="138.60"/></clipPath>
<g clip-path="url(#cpd)">
<polyline points="28.63,223.74 40.47,195.13 53.35,185.53 66.22,189.21 79.10,192.41 91.97,197.68 104.85,204.72 117.72,208.55 130.60,309.43" fill="none" stroke="#ff0000" stroke-width="1.08" stroke-linejoin="round"/>
<circle cx="28.63" cy="223.74" r="2.45" fill="#ff0000"/>
<circle cx="40.47" cy="195.13" r="2.45" fill="#ff0000"/>
<circle cx="53.35" cy="185.53" r="2.45" fill="#ff0000"/>
<circle cx="66.22" cy="189.21" r="2.45" fill="#ff0000"/>
<circle cx="79.10" cy="192.41" r="2.45" fill="#ff0000"/>
<circle cx="91.97" cy="197.68" r="2.45" fill="#ff0000"/>
<circle cx="104.85" cy="204.72" r="2.45" fill="#ff0000"/>
<circle cx="117.72" cy="208.55" r="2.45" fill="#ff0000"/>
<circle cx="130.60" cy="309.43" r="2.45" fill="#ff0000"/>
<polyline points="28.63,220.86 40.47,224.54 53.35,231.57 66.22,237.81 79.10,237.81 91.97,234.93 104.85,231.89 117.72,232.69 130.60,284.33" fill="none" stroke="#0000ff" stroke-width="1.08" stroke-linejoin="round"/>
<path d="M26.83 219.06L30.43 222.66M26.83 222.66L30.43 219.06" stroke="#0000ff" stroke-width="0.8" fill="none"/>
<path d="M38.67 222.74L42.27 226.34M38.67 226.34L42.27 222.74" stroke="#0000ff" stroke-width="0.8" fill="none"/>
<path d="M51.55 229.77L55.15 233.37M51.55 233.37L55.15 229.77" stroke="#0000ff" stroke-width="0.8" fill="none"/>
<path d="M64.42 236.01L68.02 239.61M64.42 239.61L68.02 236.01" stroke="#0000ff" stroke-width="0.8" fill="none"/>
<path d="M77.30 236.01L80.90 239.61M77.30 239.61L80.90 236.01" stroke="#0000ff" stroke-width="0.8" fill="none"/>
<path d="M90.17 233.13L93.77 236.73M90.17 236.73L93.77 233.13" stroke="#0000ff" stroke-width="0.8" fill="none"/>
<path d="M103.05 230.09L106.65 233.69M103.05 233.69L106.65 230.09" stroke="#0000ff" stroke-width="0.8" fill="none"/>
<path d="M115.92 230.89L119.52 234.49M115.92 234.49L119.52 230.89" stroke="#0000ff" stroke-width="0.8" fill="none"/>
<path d="M128.80 282.53L132.40 286.13M128.80 286.13L132.40 282.53" stroke="#0000ff" stroke-width="0.8" fill="none"/>
<polyline points="28.63,192.89 40.47,206.80 53.35,226.30 66.22,239.25 79.10,243.40 91.97,240.85 104.85,238.13 117.72,238.13 130.60,292.48" fill="none" stroke="#000000" stroke-width="1.08" stroke-linejoin="round"/>
<rect x="26.73" y="190.99" width="3.80" height="3.80" fill="#000000"/>
<rect x="38.57" y="204.90" width="3.80" height="3.80" fill="#000000"/>
<rect x="51.45" y="224.40" width="3.80" height="3.80" fill="#000000"/>
<rect x="64.32" y="237.35" width="3.80" height="3.80" fill="#000000"/>
<rect x="77.20" y="241.50" width="3.80" height="3.80" fill="#000000"/>
<rect x="90.07" y="238.95" width="3.80" height="3.80" fill="#000000"/>
<rect x="102.95" y="236.23" width="3.80" height="3.80" fill="#000000"/>
<rect x="115.82" y="236.23" width="3.80" height="3.80" fill="#000000"/>
<rect x="128.70" y="290.58" width="3.80" height="3.80" fill="#000000"/>
<polyline points="28.63,238.13 40.47,241.33 53.35,253.00 66.22,259.55 79.10,264.03 91.97,263.71 104.85,266.58 117.72,267.38 130.60,289.60" fill="none" stroke="#bfbf00" stroke-width="1.08" stroke-linejoin="round"/>
<polygon points="28.63,235.78 30.86,237.40 30.01,240.03 27.25,240.03 26.40,237.40" fill="#bfbf00"/>
<polygon points="40.47,238.98 42.71,240.60 41.86,243.23 39.09,243.23 38.24,240.60" fill="#bfbf00"/>
<polygon points="53.35,250.65 55.58,252.27 54.73,254.90 51.97,254.90 51.12,252.27" fill="#bfbf00"/>
<polygon points="66.22,257.20 68.46,258.82 67.61,261.45 64.84,261.45 63.99,258.82" fill="#bfbf00"/>
<polygon points="79.10,261.68 81.33,263.30 80.48,265.93 77.72,265.93 76.87,263.30" fill="#bfbf00"/>
<polygon points="91.97,261.36 94.21,262.98 93.36,265.61 90.59,265.61 89.74,262.98" fill="#bfbf00"/>
<polygon points="104.85,264.23 107.08,265.86 106.23,268.49 103.47,268.49 102.62,265.86" fill="#bfbf00"/>
<polygon points="117.72,265.03 119.96,266.66 119.11,269.28 116.34,269.28 115.49,266.66" fill="#bfbf00"/>
<polygon points="130.60,287.25 132.83,288.88 131.98,291.51 129.22,291.51 128.37,288.88" fill="#bfbf00"/>
<polyline points="28.63,267.38 40.47,242.29 53.35,220.54 66.22,209.03 79.10,209.03 91.97,217.19 104.85,224.54 117.72,230.46 130.60,307.83" fill="none" stroke="#ff00ff" stroke-width="1.08" stroke-linejoin="round"/>
<path d="M26.93 267.38L30.33 267.38M28.63 265.68L28.63 269.08" stroke="#ff00ff" stroke-width="0.8" fill="none"/>
<path d="M38.77 242.29L42.17 242.29M40.47 240.59L40.47 243.99" stroke="#ff00ff" stroke-width="0.8" fill="none"/>
<path d="M51.65 220.54L55.05 220.54M53.35 218.84L53.35 222.24" stroke="#ff00ff" stroke-width="0.8" fill="none"/>
<path d="M64.52 209.03L67.92 209.03M66.22 207.33L66.22 210.73" stroke="#ff00ff" stroke-width="0.8" fill="none"/>
<path d="M77.40 209.03L80.80 209.03M79.10 207.33L79.10 210.73" stroke="#ff00ff" stroke-width="0.8" fill="none"/>
<path d="M90.27 217.19L93.67 217.19M91.97 215.49L91.97 218.89" stroke="#ff00ff" stroke-width="0.8" fill="none"/>
<path d="M103.15 224.54L106.55 224.54M104.85 222.84L104.85 226.24" stroke="#ff00ff" stroke-width="0.8" fill="none"/>
<path d="M116.02 230.46L119.42 230.46M117.72 228.76L117.72 232.16" stroke="#ff00ff" stroke-width="0.8" fill="none"/>
<path d="M128.90 307.83L132.30 307.83M130.60 306.13L130.60 309.53" stroke="#ff00ff" stroke-width="0.8" fill="none"/>
<polyline points="28.63,247.40 40.47,219.43 53.35,197.20 66.22,193.53 79.10,197.20 91.97,203.12 104.85,215.75 117.72,217.83 130.60,312.14" fill="none" stroke="#00bfbf" stroke-width="1.08" stroke-linejoin="round"/>
<polygon points="28.63,244.50 30.38,247.40 28.63,250.30 26.88,247.40" fill="#00bfbf"/>
<polygon points="40.47,216.53 42.22,219.43 40.47,222.33 38.72,219.43" fill="#00bfbf"/>
<polygon points="53.35,194.30 55.10,197.20 53.35,200.10 51.60,197.20" fill="#00bfbf"/>
<polygon points="66.22,190.63 67.97,193.53 66.22,196.43 64.47,193.53" fill="#00bfbf"/>
<polygon points="79.10,194.30 80.85,197.20 79.10,200.10 77.35,197.20" fill="#00bfbf"/>
<polygon points="91.97,200.22 93.72,203.12 91.97,206.02 90.22,203.12" fill="#00bfbf"/>
<polygon points="104.85,212.85 106.60,215.75 104.85,218.65 103.10,215.75" fill="#00bfbf"/>
<polygon points="117.72,214.93 119.47,217.83 117.72,220.73 115.97,217.83" fill="#00bfbf"/>
<polygon points="130.60,309.24 132.35,312.14 130.60,315.04 128.85,312.14" fill="#00bfbf"/>
<polyline points="28.63,225.34 40.47,197.20 53.35,192.09 66.22,194.33 79.10,197.20 91.97,202.16 104.85,205.04 117.72,205.36 130.60,303.83" fill="none" stroke="#008000" stroke-width="1.08" stroke-linejoin="round"/>
<circle cx="28.63" cy="225.34" r="2.20" fill="#008000"/>
<circle cx="40.47" cy="197.20" r="2.20" fill="#008000"/>
<circle cx="53.35" cy="192.09" r="2.20" fill="#008000"/>
<circle cx="66.22" cy="194.33" r="2.20" fill="#008000"/>
<circle cx="79.10" cy="197.20" r="2.20" fill="#008000"/>
<circle cx="91.97" cy="202.16" r="2.20" fill="#008000"/>
<circle cx="104.85" cy="205.04" r="2.20" fill="#008000"/>
<circle cx="117.72" cy="205.36" r="2.20" fill="#008000"/>
<circle cx="130.60" cy="303.83" r="2.20" fill="#008000"/>
<polyline points="28.63,233.65 40.47,237.65 53.35,253.00 66.22,257.31 79.10,259.23 91.97,257.31 104.85,254.12 117.72,251.08 130.60,279.69" fill="none" stroke="#f97316" stroke-width="1.08" stroke-linejoin="round"/>
<polygon points="28.63,230.80 31.48,233.65 28.63,236.50 25.78,233.65" fill="#f97316"/>
<polygon points="40.47,234.80 43.32,237.65 40.47,240.50 37.62,237.65" fill="#f97316"/>
<polygon points="53.35,250.15 56.20,253.00 53.35,255.85 50.50,253.00" fill="#f97316"/>
<polygon points="66.22,254.46 69.07,257.31 66.22,260.16 63.37,257.31" fill="#f97316"/>
<polygon points="79.10,256.38 81.95,259.23 79.10,262.08 76.25,259.23" fill="#f97316"/>
<polygon points="91.97,254.46 94.82,257.31 91.97,260.16 89.12,257.31" fill="#f97316"/>
<polygon points="104.85,251.27 107.70,254.12 104.85,256.97 102.00,254.12" fill="#f97316"/>
<polygon points="117.72,248.23 120.57,251.08 117.72,253.93 114.88,251.08" fill="#f97316"/>
<polygon points="130.60,276.84 133.45,279.69 130.60,282.54 127.75,279.69" fill="#f97316"/>
<polyline points="28.63,254.12 40.47,221.82 53.35,200.24 66.22,192.09 79.10,195.13 91.97,204.72 104.85,213.99 117.72,215.91 130.60,307.99" fill="none" stroke="#999999" stroke-width="1.08" stroke-linejoin="round"/>
<circle cx="28.63" cy="254.12" r="1.80" fill="#999999"/>
<circle cx="40.47" cy="221.82" r="1.80" fill="#999999"/>
<circle cx="53.35" cy="200.24" r="1.80" fill="#999999"/>
<circle cx="66.22" cy="192.09" r="1.80" fill="#999999"/>
<circle cx="79.10" cy="195.13" r="1.80" fill="#999999"/>
<circle cx="91.97" cy="204.72" r="1.80" fill="#999999"/>
<circle cx="104.85" cy="213.99" r="1.80" fill="#999999"/>
<circle cx="117.72" cy="215.91" r="1.80" fill="#999999"/>
<circle cx="130.60" cy="307.99" r="1.80" fill="#999999"/>
<polyline points="28.63,194.33 40.47,205.84 53.35,229.02 66.22,238.13 79.10,242.45 91.97,239.25 104.85,237.01 117.72,234.77 130.60,287.37" fill="none" stroke="#ffa3b8" stroke-width="1.08" stroke-linejoin="round"/>
<polygon points="26.38,194.33 30.65,192.08 30.65,196.58" fill="#ffa3b8"/>
<polygon points="38.22,205.84 42.50,203.59 42.50,208.09" fill="#ffa3b8"/>
<polygon points="51.10,229.02 55.37,226.77 55.37,231.27" fill="#ffa3b8"/>
<polygon points="63.97,238.13 68.25,235.88 68.25,240.38" fill="#ffa3b8"/>
<polygon points="76.85,242.45 81.12,240.20 81.12,244.70" fill="#ffa3b8"/>
<polygon points="89.72,239.25 94.00,237.00 94.00,241.50" fill="#ffa3b8"/>
<polygon points="102.60,237.01 106.88,234.76 106.88,239.26" fill="#ffa3b8"/>
<polygon points="115.47,234.77 119.75,232.52 119.75,237.02" fill="#ffa3b8"/>
<polygon points="128.35,287.37 132.62,285.12 132.62,289.62" fill="#ffa3b8"/>
<line x1="55.10" y1="179.3" x2="55.10" y2="317.9" stroke="#ff3030" stroke-width="0.9" stroke-dasharray="2.2 1.2"/>
</g>
<rect x="23.7" y="179.3" width="111.90" height="138.60" fill="none" stroke="#808080" stroke-width="0.6"/>
<line x1="27.60" y1="317.9" x2="27.60" y2="319.7" stroke="#808080" stroke-width="0.5"/>
<text transform="scale(0.81 1)" x="28.93 34.07 39.22" y="327.00" font-size="8.4" text-anchor="middle" fill="#141414" stroke="#141414" stroke-width="0.22" >0.0</text>
<line x1="48.20" y1="317.9" x2="48.20" y2="319.7" stroke="#808080" stroke-width="0.5"/>
<text transform="scale(0.81 1)" x="54.36 59.51 64.65" y="327.00" font-size="8.4" text-anchor="middle" fill="#141414" stroke="#141414" stroke-width="0.22" >0.2</text>
<line x1="68.80" y1="317.9" x2="68.80" y2="319.7" stroke="#808080" stroke-width="0.5"/>
<text transform="scale(0.81 1)" x="79.79 84.94 90.09" y="327.00" font-size="8.4" text-anchor="middle" fill="#141414" stroke="#141414" stroke-width="0.22" >0.4</text>
<line x1="89.40" y1="317.9" x2="89.40" y2="319.7" stroke="#808080" stroke-width="0.5"/>
<text transform="scale(0.81 1)" x="105.22 110.37 115.52" y="327.00" font-size="8.4" text-anchor="middle" fill="#141414" stroke="#141414" stroke-width="0.22" >0.6</text>
<line x1="110.00" y1="317.9" x2="110.00" y2="319.7" stroke="#808080" stroke-width="0.5"/>
<text transform="scale(0.81 1)" x="130.65 135.80 140.95" y="327.00" font-size="8.4" text-anchor="middle" fill="#141414" stroke="#141414" stroke-width="0.22" >0.8</text>
<line x1="130.60" y1="317.9" x2="130.60" y2="319.7" stroke="#808080" stroke-width="0.5"/>
<text transform="scale(0.81 1)" x="156.09 161.23 166.38" y="327.00" font-size="8.4" text-anchor="middle" fill="#141414" stroke="#141414" stroke-width="0.22" >1.0</text>
<line x1="21.9" y1="306.23" x2="23.7" y2="306.23" stroke="#808080" stroke-width="0.5"/>
<text transform="scale(0.81 1)" x="13.06 18.20 23.35" y="309.13" font-size="8.4" text-anchor="middle" fill="#141414" stroke="#141414" stroke-width="0.22" >0.1</text>
<line x1="21.9" y1="290.24" x2="23.7" y2="290.24" stroke="#808080" stroke-width="0.5"/>
<text transform="scale(0.81 1)" x="13.06 18.20 23.35" y="293.14" font-size="8.4" text-anchor="middle" fill="#141414" stroke="#141414" stroke-width="0.22" >0.2</text>
<line x1="21.9" y1="274.26" x2="23.7" y2="274.26" stroke="#808080" stroke-width="0.5"/>
<text transform="scale(0.81 1)" x="13.06 18.20 23.35" y="277.16" font-size="8.4" text-anchor="middle" fill="#141414" stroke="#141414" stroke-width="0.22" >0.3</text>
<line x1="21.9" y1="258.27" x2="23.7" y2="258.27" stroke="#808080" stroke-width="0.5"/>
<text transform="scale(0.81 1)" x="13.06 18.20 23.35" y="261.17" font-size="8.4" text-anchor="middle" fill="#141414" stroke="#141414" stroke-width="0.22" >0.4</text>
<line x1="21.9" y1="242.29" x2="23.7" y2="242.29" stroke="#808080" stroke-width="0.5"/>
<text transform="scale(0.81 1)" x="13.06 18.20 23.35" y="245.19" font-size="8.4" text-anchor="middle" fill="#141414" stroke="#141414" stroke-width="0.22" >0.5</text>
<line x1="21.9" y1="226.30" x2="23.7" y2="226.30" stroke="#808080" stroke-width="0.5"/>
<text transform="scale(0.81 1)" x="13.06 18.20 23.35" y="229.20" font-size="8.4" text-anchor="middle" fill="#141414" stroke="#141414" stroke-width="0.22" >0.6</text>
<line x1="21.9" y1="210.31" x2="23.7" y2="210.31" stroke="#808080" stroke-width="0.5"/>
<text transform="scale(0.81 1)" x="13.06 18.20 23.35" y="213.21" font-size="8.4" text-anchor="middle" fill="#141414" stroke="#141414" stroke-width="0.22" >0.7</text>
<line x1="21.9" y1="194.33" x2="23.7" y2="194.33" stroke="#808080" stroke-width="0.5"/>
<text transform="scale(0.81 1)" x="13.06 18.20 23.35" y="197.23" font-size="8.4" text-anchor="middle" fill="#141414" stroke="#141414" stroke-width="0.22" >0.8</text>
<text transform="scale(0.81 1)" x="64.87 70.02 75.17 80.31 85.46 90.61 95.76 100.91 106.06 111.20 116.35 121.50 126.65 131.80" y="176.60" font-size="8.4" text-anchor="middle" fill="#141414" stroke="#141414" stroke-width="0.22" >Ca_sandi_auths</text>
<text transform="scale(0.81 1)" x="98.33" y="334.90" font-size="8.6" text-anchor="middle" fill="#141414" stroke="#141414" stroke-width="0.22" >β</text>
<text transform="translate(7.70,251.90) rotate(-90)" font-size="8.4" text-anchor="middle" fill="#141414">τ</text>
<text transform="scale(0.86 1)" x="144.71 150.52 156.34" y="192.60 193.70 192.60" font-size="12.3" text-anchor="middle" fill="#141414" stroke="#141414" stroke-width="0.25" >(d)</text>
<text transform="scale(0.81 1)" x="72.68 80.03 86.54 91.69 96.83 101.98 107.13 112.28 117.43 122.58" y="273.80" font-size="8.4" text-anchor="middle" fill="#ff3030" stroke="#ff3030" stroke-width="0.12" >βc = 0.267</text>
</g>
<g id="panel-e">
<clipPath id="cpe"><rect x="157.7" y="179.3" width="111.90" height="138.60"/></clipPath>
<g clip-path="url(#cpe)">
<polyline points="162.63,244.57 174.47,192.17 187.35,185.83 200.23,193.29 213.10,203.92 225.98,206.34 238.85,214.73 251.73,242.33 264.60,271.05" fill="none" stroke="#ff0000" stroke-width="1.08" stroke-linejoin="round"/>
<circle cx="162.63" cy="244.57" r="2.45" fill="#ff0000"/>
<circle cx="174.47" cy="192.17" r="2.45" fill="#ff0000"/>
<circle cx="187.35" cy="185.83" r="2.45" fill="#ff0000"/>
<circle cx="200.23" cy="193.29" r="2.45" fill="#ff0000"/>
<circle cx="213.10" cy="203.92" r="2.45" fill="#ff0000"/>
<circle cx="225.98" cy="206.34" r="2.45" fill="#ff0000"/>
<circle cx="238.85" cy="214.73" r="2.45" fill="#ff0000"/>
<circle cx="251.73" cy="242.33" r="2.45" fill="#ff0000"/>
<circle cx="264.60" cy="271.05" r="2.45" fill="#ff0000"/>
<polyline points="162.63,238.79 174.47,229.28 187.35,247.00 200.23,244.76 213.10,233.57 225.98,226.67 238.85,230.40 251.73,242.89 264.60,312.08" fill="none" stroke="#0000ff" stroke-width="1.08" stroke-linejoin="round"/>
<path d="M160.83 236.99L164.43 240.59M160.83 240.59L164.43 236.99" stroke="#0000ff" stroke-width="0.8" fill="none"/>
<path d="M172.67 227.48L176.28 231.08M172.67 231.08L176.28 227.48" stroke="#0000ff" stroke-width="0.8" fill="none"/>
<path d="M185.55 245.20L189.15 248.80M185.55 248.80L189.15 245.20" stroke="#0000ff" stroke-width="0.8" fill="none"/>
<path d="M198.43 242.96L202.03 246.56M198.43 246.56L202.03 242.96" stroke="#0000ff" stroke-width="0.8" fill="none"/>
<path d="M211.30 231.77L214.90 235.37M211.30 235.37L214.90 231.77" stroke="#0000ff" stroke-width="0.8" fill="none"/>
<path d="M224.18 224.87L227.78 228.47M224.18 228.47L227.78 224.87" stroke="#0000ff" stroke-width="0.8" fill="none"/>
<path d="M237.05 228.60L240.65 232.20M237.05 232.20L240.65 228.60" stroke="#0000ff" stroke-width="0.8" fill="none"/>
<path d="M249.93 241.09L253.53 244.69M249.93 244.69L253.53 241.09" stroke="#0000ff" stroke-width="0.8" fill="none"/>
<path d="M262.80 310.28L266.40 313.88M262.80 313.88L266.40 310.28" stroke="#0000ff" stroke-width="0.8" fill="none"/>
<polyline points="162.63,217.34 174.47,210.82 187.35,235.06 200.23,235.06 213.10,232.45 225.98,222.94 238.85,227.97 251.73,246.06 264.60,285.23" fill="none" stroke="#000000" stroke-width="1.08" stroke-linejoin="round"/>
<rect x="160.73" y="215.44" width="3.80" height="3.80" fill="#000000"/>
<rect x="172.57" y="208.92" width="3.80" height="3.80" fill="#000000"/>
<rect x="185.45" y="233.16" width="3.80" height="3.80" fill="#000000"/>
<rect x="198.33" y="233.16" width="3.80" height="3.80" fill="#000000"/>
<rect x="211.20" y="230.55" width="3.80" height="3.80" fill="#000000"/>
<rect x="224.08" y="221.04" width="3.80" height="3.80" fill="#000000"/>
<rect x="236.95" y="226.07" width="3.80" height="3.80" fill="#000000"/>
<rect x="249.83" y="244.16" width="3.80" height="3.80" fill="#000000"/>
<rect x="262.70" y="283.33" width="3.80" height="3.80" fill="#000000"/>
<polyline points="162.63,253.71 174.47,250.35 187.35,259.86 200.23,263.78 213.10,270.31 225.98,270.31 238.85,274.97 251.73,286.35 264.60,237.67" fill="none" stroke="#bfbf00" stroke-width="1.08" stroke-linejoin="round"/>
<polygon points="162.63,251.36 164.86,252.98 164.01,255.61 161.25,255.61 160.40,252.98" fill="#bfbf00"/>
<polygon points="174.47,248.00 176.71,249.63 175.86,252.25 173.09,252.25 172.24,249.63" fill="#bfbf00"/>
<polygon points="187.35,257.51 189.58,259.14 188.73,261.77 185.97,261.77 185.12,259.14" fill="#bfbf00"/>
<polygon points="200.23,261.43 202.46,263.05 201.61,265.68 198.84,265.68 197.99,263.05" fill="#bfbf00"/>
<polygon points="213.10,267.96 215.33,269.58 214.48,272.21 211.72,272.21 210.87,269.58" fill="#bfbf00"/>
<polygon points="225.98,267.96 228.21,269.58 227.36,272.21 224.59,272.21 223.74,269.58" fill="#bfbf00"/>
<polygon points="238.85,272.62 241.08,274.24 240.23,276.87 237.47,276.87 236.62,274.24" fill="#bfbf00"/>
<polygon points="251.73,284.00 253.96,285.62 253.11,288.25 250.34,288.25 249.49,285.62" fill="#bfbf00"/>
<polygon points="264.60,235.32 266.83,236.95 265.98,239.57 263.22,239.57 262.37,236.95" fill="#bfbf00"/>
<polyline points="162.63,298.28 174.47,265.46 187.35,251.66 200.23,250.35 213.10,260.24 225.98,266.20 238.85,271.99 251.73,286.35 264.60,270.31" fill="none" stroke="#ff00ff" stroke-width="1.08" stroke-linejoin="round"/>
<path d="M160.93 298.28L164.33 298.28M162.63 296.58L162.63 299.98" stroke="#ff00ff" stroke-width="0.8" fill="none"/>
<path d="M172.78 265.46L176.17 265.46M174.47 263.76L174.47 267.16" stroke="#ff00ff" stroke-width="0.8" fill="none"/>
<path d="M185.65 251.66L189.05 251.66M187.35 249.96L187.35 253.36" stroke="#ff00ff" stroke-width="0.8" fill="none"/>
<path d="M198.53 250.35L201.93 250.35M200.23 248.65L200.23 252.05" stroke="#ff00ff" stroke-width="0.8" fill="none"/>
<path d="M211.40 260.24L214.80 260.24M213.10 258.54L213.10 261.94" stroke="#ff00ff" stroke-width="0.8" fill="none"/>
<path d="M224.28 266.20L227.68 266.20M225.98 264.50L225.98 267.90" stroke="#ff00ff" stroke-width="0.8" fill="none"/>
<path d="M237.15 271.99L240.55 271.99M238.85 270.29L238.85 273.69" stroke="#ff00ff" stroke-width="0.8" fill="none"/>
<path d="M250.03 286.35L253.43 286.35M251.73 284.65L251.73 288.05" stroke="#ff00ff" stroke-width="0.8" fill="none"/>
<path d="M262.90 270.31L266.30 270.31M264.60 268.61L264.60 272.01" stroke="#ff00ff" stroke-width="0.8" fill="none"/>
<polyline points="162.63,271.99 174.47,217.34 187.35,198.32 200.23,209.33 213.10,217.72 225.98,225.74 238.85,231.33 251.73,256.69 264.60,284.11" fill="none" stroke="#00bfbf" stroke-width="1.08" stroke-linejoin="round"/>
<polygon points="162.63,269.09 164.38,271.99 162.63,274.89 160.88,271.99" fill="#00bfbf"/>
<polygon points="174.47,214.44 176.22,217.34 174.47,220.24 172.72,217.34" fill="#00bfbf"/>
<polygon points="187.35,195.42 189.10,198.32 187.35,201.22 185.60,198.32" fill="#00bfbf"/>
<polygon points="200.23,206.43 201.98,209.33 200.23,212.23 198.48,209.33" fill="#00bfbf"/>
<polygon points="213.10,214.82 214.85,217.72 213.10,220.62 211.35,217.72" fill="#00bfbf"/>
<polygon points="225.98,222.84 227.73,225.74 225.98,228.64 224.23,225.74" fill="#00bfbf"/>
<polygon points="238.85,228.43 240.60,231.33 238.85,234.23 237.10,231.33" fill="#00bfbf"/>
<polygon points="251.73,253.79 253.48,256.69 251.73,259.59 249.98,256.69" fill="#00bfbf"/>
<polygon points="264.60,281.21 266.35,284.11 264.60,287.01 262.85,284.11" fill="#00bfbf"/>
<polyline points="162.63,246.81 174.47,196.83 187.35,188.81 200.23,193.85 213.10,204.48 225.98,207.46 238.85,215.11 251.73,240.28 264.60,273.85" fill="none" stroke="#008000" stroke-width="1.08" stroke-linejoin="round"/>
<circle cx="162.63" cy="246.81" r="2.20" fill="#008000"/>
<circle cx="174.47" cy="196.83" r="2.20" fill="#008000"/>
<circle cx="187.35" cy="188.81" r="2.20" fill="#008000"/>
<circle cx="200.23" cy="193.85" r="2.20" fill="#008000"/>
<circle cx="213.10" cy="204.48" r="2.20" fill="#008000"/>
<circle cx="225.98" cy="207.46" r="2.20" fill="#008000"/>
<circle cx="238.85" cy="215.11" r="2.20" fill="#008000"/>
<circle cx="251.73" cy="240.28" r="2.20" fill="#008000"/>
<circle cx="264.60" cy="273.85" r="2.20" fill="#008000"/>
<polyline points="162.63,233.94 174.47,234.31 187.35,256.69 200.23,257.44 213.10,253.34 225.98,247.00 238.85,250.17 251.73,263.22 264.60,288.58" fill="none" stroke="#f97316" stroke-width="1.08" stroke-linejoin="round"/>
<polygon points="162.63,231.09 165.48,233.94 162.63,236.79 159.78,233.94" fill="#f97316"/>
<polygon points="174.47,231.46 177.32,234.31 174.47,237.16 171.62,234.31" fill="#f97316"/>
<polygon points="187.35,253.84 190.20,256.69 187.35,259.54 184.50,256.69" fill="#f97316"/>
<polygon points="200.23,254.59 203.08,257.44 200.23,260.29 197.38,257.44" fill="#f97316"/>
<polygon points="213.10,250.49 215.95,253.34 213.10,256.19 210.25,253.34" fill="#f97316"/>
<polygon points="225.98,244.15 228.83,247.00 225.98,249.85 223.13,247.00" fill="#f97316"/>
<polygon points="238.85,247.32 241.70,250.17 238.85,253.02 236.00,250.17" fill="#f97316"/>
<polygon points="251.73,260.37 254.58,263.22 251.73,266.07 248.88,263.22" fill="#f97316"/>
<polygon points="264.60,285.73 267.45,288.58 264.60,291.43 261.75,288.58" fill="#f97316"/>
<polyline points="162.63,275.53 174.47,228.91 187.35,214.17 200.23,218.09 213.10,229.84 225.98,238.79 238.85,246.25 251.73,267.51 264.60,262.66" fill="none" stroke="#999999" stroke-width="1.08" stroke-linejoin="round"/>
<circle cx="162.63" cy="275.53" r="1.80" fill="#999999"/>
<circle cx="174.47" cy="228.91" r="1.80" fill="#999999"/>
<circle cx="187.35" cy="214.17" r="1.80" fill="#999999"/>
<circle cx="200.23" cy="218.09" r="1.80" fill="#999999"/>
<circle cx="213.10" cy="229.84" r="1.80" fill="#999999"/>
<circle cx="225.98" cy="238.79" r="1.80" fill="#999999"/>
<circle cx="238.85" cy="246.25" r="1.80" fill="#999999"/>
<circle cx="251.73" cy="267.51" r="1.80" fill="#999999"/>
<circle cx="264.60" cy="262.66" r="1.80" fill="#999999"/>
<polyline points="162.63,217.72 174.47,212.31 187.35,235.43 200.23,235.43 213.10,232.82 225.98,224.06 238.85,229.09 251.73,245.69 264.60,285.97" fill="none" stroke="#ffa3b8" stroke-width="1.08" stroke-linejoin="round"/>
<polygon points="160.38,217.72 164.66,215.47 164.66,219.97" fill="#ffa3b8"/>
<polygon points="172.22,212.31 176.50,210.06 176.50,214.56" fill="#ffa3b8"/>
<polygon points="185.10,235.43 189.38,233.18 189.38,237.68" fill="#ffa3b8"/>
<polygon points="197.98,235.43 202.25,233.18 202.25,237.68" fill="#ffa3b8"/>
<polygon points="210.85,232.82 215.13,230.57 215.13,235.07" fill="#ffa3b8"/>
<polygon points="223.73,224.06 228.00,221.81 228.00,226.31" fill="#ffa3b8"/>
<polygon points="236.60,229.09 240.88,226.84 240.88,231.34" fill="#ffa3b8"/>
<polygon points="249.48,245.69 253.75,243.44 253.75,247.94" fill="#ffa3b8"/>
<polygon points="262.35,285.97 266.62,283.72 266.62,288.22" fill="#ffa3b8"/>
<line x1="178.90" y1="179.3" x2="178.90" y2="317.9" stroke="#ff3030" stroke-width="0.9" stroke-dasharray="2.2 1.2"/>
</g>
<rect x="157.7" y="179.3" width="111.90" height="138.60" fill="none" stroke="#808080" stroke-width="0.6"/>
<line x1="161.60" y1="317.9" x2="161.60" y2="319.7" stroke="#808080" stroke-width="0.5"/>
<text transform="scale(0.81 1)" x="194.36 199.51 204.65" y="327.00" font-size="8.4" text-anchor="middle" fill="#141414" stroke="#141414" stroke-width="0.22" >0.0</text>
<line x1="182.20" y1="317.9" x2="182.20" y2="319.7" stroke="#808080" stroke-width="0.5"/>
<text transform="scale(0.81 1)" x="219.79 224.94 230.09" y="327.00" font-size="8.4" text-anchor="middle" fill="#141414" stroke="#141414" stroke-width="0.22" >0.2</text>
<line x1="202.80" y1="317.9" x2="202.80" y2="319.7" stroke="#808080" stroke-width="0.5"/>
<text transform="scale(0.81 1)" x="245.22 250.37 255.52" y="327.00" font-size="8.4" text-anchor="middle" fill="#141414" stroke="#141414" stroke-width="0.22" >0.4</text>
<line x1="223.40" y1="317.9" x2="223.40" y2="319.7" stroke="#808080" stroke-width="0.5"/>
<text transform="scale(0.81 1)" x="270.65 275.80 280.95" y="327.00" font-size="8.4" text-anchor="middle" fill="#141414" stroke="#141414" stroke-width="0.22" >0.6</text>
<line x1="244.00" y1="317.9" x2="244.00" y2="319.7" stroke="#808080" stroke-width="0.5"/>
<text transform="scale(0.81 1)" x="296.09 301.23 306.38" y="327.00" font-size="8.4" text-anchor="middle" fill="#141414" stroke="#141414" stroke-width="0.22" >0.8</text>
<line x1="264.60" y1="317.9" x2="264.60" y2="319.7" stroke="#808080" stroke-width="0.5"/>
<text transform="scale(0.81 1)" x="321.52 326.67 331.81" y="327.00" font-size="8.4" text-anchor="middle" fill="#141414" stroke="#141414" stroke-width="0.22" >1.0</text>
<line x1="155.89999999999998" y1="305.74" x2="157.7" y2="305.74" stroke="#808080" stroke-width="0.5"/>
<text transform="scale(0.81 1)" x="178.49 183.64 188.78" y="308.64" font-size="8.4" text-anchor="middle" fill="#141414" stroke="#141414" stroke-width="0.22" >0.1</text>
<line x1="155.89999999999998" y1="287.09" x2="157.7" y2="287.09" stroke="#808080" stroke-width="0.5"/>
<text transform="scale(0.81 1)" x="178.49 183.64 188.78" y="289.99" font-size="8.4" text-anchor="middle" fill="#141414" stroke="#141414" stroke-width="0.22" >0.2</text>
<line x1="155.89999999999998" y1="268.44" x2="157.7" y2="268.44" stroke="#808080" stroke-width="0.5"/>
<text transform="scale(0.81 1)" x="178.49 183.64 188.78" y="271.34" font-size="8.4" text-anchor="middle" fill="#141414" stroke="#141414" stroke-width="0.22" >0.3</text>
<line x1="155.89999999999998" y1="249.79" x2="157.7" y2="249.79" stroke="#808080" stroke-width="0.5"/>
<text transform="scale(0.81 1)" x="178.49 183.64 188.78" y="252.69" font-size="8.4" text-anchor="middle" fill="#141414" stroke="#141414" stroke-width="0.22" >0.4</text>
<line x1="155.89999999999998" y1="231.14" x2="157.7" y2="231.14" stroke="#808080" stroke-width="0.5"/>
<text transform="scale(0.81 1)" x="178.49 183.64 188.78" y="234.04" font-size="8.4" text-anchor="middle" fill="#141414" stroke="#141414" stroke-width="0.22" >0.5</text>
<line x1="155.89999999999998" y1="212.50" x2="157.7" y2="212.50" stroke="#808080" stroke-width="0.5"/>
<text transform="scale(0.81 1)" x="178.49 183.64 188.78" y="215.40" font-size="8.4" text-anchor="middle" fill="#141414" stroke="#141414" stroke-width="0.22" >0.6</text>
<line x1="155.89999999999998" y1="193.85" x2="157.7" y2="193.85" stroke="#808080" stroke-width="0.5"/>
<text transform="scale(0.81 1)" x="178.49 183.64 188.78" y="196.75" font-size="8.4" text-anchor="middle" fill="#141414" stroke="#141414" stroke-width="0.22" >0.7</text>
<text transform="scale(0.81 1)" x="240.60 245.75 250.90 256.04 261.19 266.34 271.49 276.64 281.78 286.93" y="176.60" font-size="8.4" text-anchor="middle" fill="#141414" stroke="#141414" stroke-width="0.22" >Netscience</text>
<text transform="scale(0.81 1)" x="263.77" y="334.90" font-size="8.6" text-anchor="middle" fill="#141414" stroke="#141414" stroke-width="0.22" >β</text>
<text transform="translate(141.70,251.90) rotate(-90)" font-size="8.4" text-anchor="middle" fill="#141414">τ</text>
<text transform="scale(0.86 1)" x="300.52 306.34 312.15" y="192.60 193.70 192.60" font-size="12.3" text-anchor="middle" fill="#141414" stroke="#141414" stroke-width="0.25" >(e)</text>
<text transform="scale(0.81 1)" x="225.52 232.88 239.38 244.53 249.68 254.83 259.97 265.12 270.27 275.42" y="286.60" font-size="8.4" text-anchor="middle" fill="#ff3030" stroke="#ff3030" stroke-width="0.12" >βc = 0.168</text>
</g>
<g id="panel-f">
<clipPath id="cpf"><rect x="291.15" y="179.3" width="111.90" height="138.60"/></clipPath>
<g clip-path="url(#cpf)">
<polyline points="296.08,249.31 307.92,196.95 320.80,196.95 333.67,198.27 346.55,199.60 359.42,203.40 372.30,209.85 385.17,221.99 398.05,296.37" fill="none" stroke="#ff0000" stroke-width="1.08" stroke-linejoin="round"/>
<circle cx="296.08" cy="249.31" r="2.45" fill="#ff0000"/>
<circle cx="307.92" cy="196.95" r="2.45" fill="#ff0000"/>
<circle cx="320.80" cy="196.95" r="2.45" fill="#ff0000"/>
<circle cx="333.67" cy="198.27" r="2.45" fill="#ff0000"/>
<circle cx="346.55" cy="199.60" r="2.45" fill="#ff0000"/>
<circle cx="359.42" cy="203.40" r="2.45" fill="#ff0000"/>
<circle cx="372.30" cy="209.85" r="2.45" fill="#ff0000"/>
<circle cx="385.17" cy="221.99" r="2.45" fill="#ff0000"/>
<circle cx="398.05" cy="296.37" r="2.45" fill="#ff0000"/>
<polyline points="296.08,258.80 307.92,250.07 320.80,260.70 333.67,257.85 346.55,246.84 359.42,241.72 372.30,240.58 385.17,240.58 398.05,312.11" fill="none" stroke="#0000ff" stroke-width="1.08" stroke-linejoin="round"/>
<path d="M294.28 257.00L297.88 260.60M294.28 260.60L297.88 257.00" stroke="#0000ff" stroke-width="0.8" fill="none"/>
<path d="M306.12 248.27L309.72 251.87M306.12 251.87L309.72 248.27" stroke="#0000ff" stroke-width="0.8" fill="none"/>
<path d="M319.00 258.90L322.60 262.50M319.00 262.50L322.60 258.90" stroke="#0000ff" stroke-width="0.8" fill="none"/>
<path d="M331.87 256.05L335.47 259.65M331.87 259.65L335.47 256.05" stroke="#0000ff" stroke-width="0.8" fill="none"/>
<path d="M344.75 245.04L348.35 248.64M344.75 248.64L348.35 245.04" stroke="#0000ff" stroke-width="0.8" fill="none"/>
<path d="M357.62 239.92L361.22 243.52M357.62 243.52L361.22 239.92" stroke="#0000ff" stroke-width="0.8" fill="none"/>
<path d="M370.50 238.78L374.10 242.38M370.50 242.38L374.10 238.78" stroke="#0000ff" stroke-width="0.8" fill="none"/>
<path d="M383.37 238.78L386.97 242.38M383.37 242.38L386.97 238.78" stroke="#0000ff" stroke-width="0.8" fill="none"/>
<path d="M396.25 310.31L399.85 313.91M396.25 313.91L399.85 310.31" stroke="#0000ff" stroke-width="0.8" fill="none"/>
<polyline points="296.08,225.03 307.92,225.03 320.80,247.22 333.67,245.52 346.55,238.69 359.42,233.56 372.30,232.80 385.17,238.31 398.05,294.47" fill="none" stroke="#000000" stroke-width="1.08" stroke-linejoin="round"/>
<rect x="294.18" y="223.13" width="3.80" height="3.80" fill="#000000"/>
<rect x="306.02" y="223.13" width="3.80" height="3.80" fill="#000000"/>
<rect x="318.90" y="245.32" width="3.80" height="3.80" fill="#000000"/>
<rect x="331.77" y="243.62" width="3.80" height="3.80" fill="#000000"/>
<rect x="344.65" y="236.79" width="3.80" height="3.80" fill="#000000"/>
<rect x="357.52" y="231.66" width="3.80" height="3.80" fill="#000000"/>
<rect x="370.40" y="230.90" width="3.80" height="3.80" fill="#000000"/>
<rect x="383.27" y="236.41" width="3.80" height="3.80" fill="#000000"/>
<rect x="396.15" y="292.57" width="3.80" height="3.80" fill="#000000"/>
<polyline points="296.08,235.08 307.92,235.65 320.80,252.73 333.67,253.30 346.55,248.36 359.42,243.24 372.30,243.24 385.17,247.41 398.05,300.16" fill="none" stroke="#bfbf00" stroke-width="1.08" stroke-linejoin="round"/>
<polygon points="296.08,232.73 298.31,234.36 297.46,236.98 294.70,236.98 293.85,234.36" fill="#bfbf00"/>
<polygon points="307.92,233.30 310.16,234.92 309.31,237.55 306.54,237.55 305.69,234.92" fill="#bfbf00"/>
<polygon points="320.80,250.38 323.03,252.00 322.18,254.63 319.42,254.63 318.57,252.00" fill="#bfbf00"/>
<polygon points="333.67,250.95 335.91,252.57 335.06,255.20 332.29,255.20 331.44,252.57" fill="#bfbf00"/>
<polygon points="346.55,246.01 348.78,247.64 347.93,250.26 345.17,250.26 344.32,247.64" fill="#bfbf00"/>
<polygon points="359.42,240.89 361.66,242.51 360.81,245.14 358.04,245.14 357.19,242.51" fill="#bfbf00"/>
<polygon points="372.30,240.89 374.53,242.51 373.68,245.14 370.92,245.14 370.07,242.51" fill="#bfbf00"/>
<polygon points="385.17,245.06 387.41,246.69 386.56,249.32 383.79,249.32 382.94,246.69" fill="#bfbf00"/>
<polygon points="398.05,297.81 400.28,299.43 399.43,302.06 396.67,302.06 395.82,299.43" fill="#bfbf00"/>
<polyline points="296.08,272.08 307.92,223.13 320.80,192.96 333.67,188.98 346.55,198.08 359.42,208.90 372.30,220.28 385.17,231.29 398.05,302.06" fill="none" stroke="#ff00ff" stroke-width="1.08" stroke-linejoin="round"/>
<path d="M294.38 272.08L297.78 272.08M296.08 270.38L296.08 273.78" stroke="#ff00ff" stroke-width="0.8" fill="none"/>
<path d="M306.22 223.13L309.62 223.13M307.92 221.43L307.92 224.83" stroke="#ff00ff" stroke-width="0.8" fill="none"/>
<path d="M319.10 192.96L322.50 192.96M320.80 191.26L320.80 194.66" stroke="#ff00ff" stroke-width="0.8" fill="none"/>
<path d="M331.97 188.98L335.37 188.98M333.67 187.28L333.67 190.68" stroke="#ff00ff" stroke-width="0.8" fill="none"/>
<path d="M344.85 198.08L348.25 198.08M346.55 196.38L346.55 199.78" stroke="#ff00ff" stroke-width="0.8" fill="none"/>
<path d="M357.72 208.90L361.12 208.90M359.42 207.20L359.42 210.60" stroke="#ff00ff" stroke-width="0.8" fill="none"/>
<path d="M370.60 220.28L374.00 220.28M372.30 218.58L372.30 221.98" stroke="#ff00ff" stroke-width="0.8" fill="none"/>
<path d="M383.47 231.29L386.87 231.29M385.17 229.59L385.17 232.99" stroke="#ff00ff" stroke-width="0.8" fill="none"/>
<path d="M396.35 302.06L399.75 302.06M398.05 300.36L398.05 303.76" stroke="#ff00ff" stroke-width="0.8" fill="none"/>
<polyline points="296.08,283.27 307.92,232.05 320.80,209.09 333.67,214.40 346.55,225.03 359.42,231.86 372.30,239.45 385.17,248.93 398.05,306.61" fill="none" stroke="#00bfbf" stroke-width="1.08" stroke-linejoin="round"/>
<polygon points="296.08,280.37 297.83,283.27 296.08,286.17 294.33,283.27" fill="#00bfbf"/>
<polygon points="307.92,229.15 309.67,232.05 307.92,234.95 306.17,232.05" fill="#00bfbf"/>
<polygon points="320.80,206.19 322.55,209.09 320.80,211.99 319.05,209.09" fill="#00bfbf"/>
<polygon points="333.67,211.50 335.42,214.40 333.67,217.30 331.92,214.40" fill="#00bfbf"/>
<polygon points="346.55,222.13 348.30,225.03 346.55,227.93 344.80,225.03" fill="#00bfbf"/>
<polygon points="359.42,228.96 361.17,231.86 359.42,234.76 357.67,231.86" fill="#00bfbf"/>
<polygon points="372.30,236.55 374.05,239.45 372.30,242.35 370.55,239.45" fill="#00bfbf"/>
<polygon points="385.17,246.03 386.92,248.93 385.17,251.83 383.42,248.93" fill="#00bfbf"/>
<polygon points="398.05,303.71 399.80,306.61 398.05,309.51 396.30,306.61" fill="#00bfbf"/>
<polyline points="296.08,251.40 307.92,210.23 320.80,201.69 333.67,197.32 346.55,199.60 359.42,203.59 372.30,212.88 385.17,222.37 398.05,297.69" fill="none" stroke="#008000" stroke-width="1.08" stroke-linejoin="round"/>
<circle cx="296.08" cy="251.40" r="2.20" fill="#008000"/>
<circle cx="307.92" cy="210.23" r="2.20" fill="#008000"/>
<circle cx="320.80" cy="201.69" r="2.20" fill="#008000"/>
<circle cx="333.67" cy="197.32" r="2.20" fill="#008000"/>
<circle cx="346.55" cy="199.60" r="2.20" fill="#008000"/>
<circle cx="359.42" cy="203.59" r="2.20" fill="#008000"/>
<circle cx="372.30" cy="212.88" r="2.20" fill="#008000"/>
<circle cx="385.17" cy="222.37" r="2.20" fill="#008000"/>
<circle cx="398.05" cy="297.69" r="2.20" fill="#008000"/>
<polyline points="296.08,238.69 307.92,238.69 320.80,248.17 333.67,248.93 346.55,244.95 359.42,242.48 372.30,243.81 385.17,250.83 398.05,283.27" fill="none" stroke="#f97316" stroke-width="1.08" stroke-linejoin="round"/>
<polygon points="296.08,235.84 298.93,238.69 296.08,241.54 293.23,238.69" fill="#f97316"/>
<polygon points="307.92,235.84 310.77,238.69 307.92,241.54 305.07,238.69" fill="#f97316"/>
<polygon points="320.80,245.32 323.65,248.17 320.80,251.02 317.95,248.17" fill="#f97316"/>
<polygon points="333.67,246.08 336.52,248.93 333.67,251.78 330.82,248.93" fill="#f97316"/>
<polygon points="346.55,242.10 349.40,244.95 346.55,247.80 343.70,244.95" fill="#f97316"/>
<polygon points="359.42,239.63 362.27,242.48 359.42,245.33 356.57,242.48" fill="#f97316"/>
<polygon points="372.30,240.96 375.15,243.81 372.30,246.66 369.45,243.81" fill="#f97316"/>
<polygon points="385.17,247.98 388.02,250.83 385.17,253.68 382.32,250.83" fill="#f97316"/>
<polygon points="398.05,280.42 400.90,283.27 398.05,286.12 395.20,283.27" fill="#f97316"/>
<polyline points="296.08,270.56 307.92,218.57 320.80,189.93 333.67,185.94 346.55,196.57 359.42,207.00 372.30,218.01 385.17,232.05 398.05,300.73" fill="none" stroke="#999999" stroke-width="1.08" stroke-linejoin="round"/>
<circle cx="296.08" cy="270.56" r="1.80" fill="#999999"/>
<circle cx="307.92" cy="218.57" r="1.80" fill="#999999"/>
<circle cx="320.80" cy="189.93" r="1.80" fill="#999999"/>
<circle cx="333.67" cy="185.94" r="1.80" fill="#999999"/>
<circle cx="346.55" cy="196.57" r="1.80" fill="#999999"/>
<circle cx="359.42" cy="207.00" r="1.80" fill="#999999"/>
<circle cx="372.30" cy="218.01" r="1.80" fill="#999999"/>
<circle cx="385.17" cy="232.05" r="1.80" fill="#999999"/>
<circle cx="398.05" cy="300.73" r="1.80" fill="#999999"/>
<polyline points="296.08,225.41 307.92,225.41 320.80,247.60 333.67,246.66 346.55,240.39 359.42,234.13 372.30,233.75 385.17,239.07 398.05,294.47" fill="none" stroke="#ffa3b8" stroke-width="1.08" stroke-linejoin="round"/>
<polygon points="293.83,225.41 298.10,223.16 298.10,227.66" fill="#ffa3b8"/>
<polygon points="305.67,225.41 309.95,223.16 309.95,227.66" fill="#ffa3b8"/>
<polygon points="318.55,247.60 322.82,245.35 322.82,249.85" fill="#ffa3b8"/>
<polygon points="331.42,246.66 335.70,244.41 335.70,248.91" fill="#ffa3b8"/>
<polygon points="344.30,240.39 348.57,238.14 348.57,242.64" fill="#ffa3b8"/>
<polygon points="357.17,234.13 361.45,231.88 361.45,236.38" fill="#ffa3b8"/>
<polygon points="370.05,233.75 374.32,231.50 374.32,236.00" fill="#ffa3b8"/>
<polygon points="382.92,239.07 387.20,236.82 387.20,241.32" fill="#ffa3b8"/>
<polygon points="395.80,294.47 400.07,292.22 400.07,296.72" fill="#ffa3b8"/>
<line x1="313.59" y1="179.3" x2="313.59" y2="317.9" stroke="#ff3030" stroke-width="0.9" stroke-dasharray="2.2 1.2"/>
</g>
<rect x="291.15" y="179.3" width="111.90" height="138.60" fill="none" stroke="#808080" stroke-width="0.6"/>
<line x1="295.05" y1="317.9" x2="295.05" y2="319.7" stroke="#808080" stroke-width="0.5"/>
<text transform="scale(0.81 1)" x="359.11 364.26 369.41" y="327.00" font-size="8.4" text-anchor="middle" fill="#141414" stroke="#141414" stroke-width="0.22" >0.0</text>
<line x1="315.65" y1="317.9" x2="315.65" y2="319.7" stroke="#808080" stroke-width="0.5"/>
<text transform="scale(0.81 1)" x="384.54 389.69 394.84" y="327.00" font-size="8.4" text-anchor="middle" fill="#141414" stroke="#141414" stroke-width="0.22" >0.2</text>
<line x1="336.25" y1="317.9" x2="336.25" y2="319.7" stroke="#808080" stroke-width="0.5"/>
<text transform="scale(0.81 1)" x="409.98 415.12 420.27" y="327.00" font-size="8.4" text-anchor="middle" fill="#141414" stroke="#141414" stroke-width="0.22" >0.4</text>
<line x1="356.85" y1="317.9" x2="356.85" y2="319.7" stroke="#808080" stroke-width="0.5"/>
<text transform="scale(0.81 1)" x="435.41 440.56 445.70" y="327.00" font-size="8.4" text-anchor="middle" fill="#141414" stroke="#141414" stroke-width="0.22" >0.6</text>
<line x1="377.45" y1="317.9" x2="377.45" y2="319.7" stroke="#808080" stroke-width="0.5"/>
<text transform="scale(0.81 1)" x="460.84 465.99 471.14" y="327.00" font-size="8.4" text-anchor="middle" fill="#141414" stroke="#141414" stroke-width="0.22" >0.8</text>
<line x1="398.05" y1="317.9" x2="398.05" y2="319.7" stroke="#808080" stroke-width="0.5"/>
<text transform="scale(0.81 1)" x="486.27 491.42 496.57" y="327.00" font-size="8.4" text-anchor="middle" fill="#141414" stroke="#141414" stroke-width="0.22" >1.0</text>
<line x1="289.34999999999997" y1="313.44" x2="291.15" y2="313.44" stroke="#808080" stroke-width="0.5"/>
<text transform="scale(0.81 1)" x="343.24 348.39 353.54" y="316.34" font-size="8.4" text-anchor="middle" fill="#141414" stroke="#141414" stroke-width="0.22" >0.1</text>
<line x1="289.34999999999997" y1="294.47" x2="291.15" y2="294.47" stroke="#808080" stroke-width="0.5"/>
<text transform="scale(0.81 1)" x="343.24 348.39 353.54" y="297.37" font-size="8.4" text-anchor="middle" fill="#141414" stroke="#141414" stroke-width="0.22" >0.2</text>
<line x1="289.34999999999997" y1="275.49" x2="291.15" y2="275.49" stroke="#808080" stroke-width="0.5"/>
<text transform="scale(0.81 1)" x="343.24 348.39 353.54" y="278.39" font-size="8.4" text-anchor="middle" fill="#141414" stroke="#141414" stroke-width="0.22" >0.3</text>
<line x1="289.34999999999997" y1="256.52" x2="291.15" y2="256.52" stroke="#808080" stroke-width="0.5"/>
<text transform="scale(0.81 1)" x="343.24 348.39 353.54" y="259.42" font-size="8.4" text-anchor="middle" fill="#141414" stroke="#141414" stroke-width="0.22" >0.4</text>
<line x1="289.34999999999997" y1="237.55" x2="291.15" y2="237.55" stroke="#808080" stroke-width="0.5"/>
<text transform="scale(0.81 1)" x="343.24 348.39 353.54" y="240.45" font-size="8.4" text-anchor="middle" fill="#141414" stroke="#141414" stroke-width="0.22" >0.5</text>
<line x1="289.34999999999997" y1="218.57" x2="291.15" y2="218.57" stroke="#808080" stroke-width="0.5"/>
<text transform="scale(0.81 1)" x="343.24 348.39 353.54" y="221.47" font-size="8.4" text-anchor="middle" fill="#141414" stroke="#141414" stroke-width="0.22" >0.6</text>
<line x1="289.34999999999997" y1="199.60" x2="291.15" y2="199.60" stroke="#808080" stroke-width="0.5"/>
<text transform="scale(0.81 1)" x="343.24 348.39 353.54" y="202.50" font-size="8.4" text-anchor="middle" fill="#141414" stroke="#141414" stroke-width="0.22" >0.7</text>
<line x1="289.34999999999997" y1="180.63" x2="291.15" y2="180.63" stroke="#808080" stroke-width="0.5"/>
<text transform="scale(0.81 1)" x="343.24 348.39 353.54" y="183.53" font-size="8.4" text-anchor="middle" fill="#141414" stroke="#141414" stroke-width="0.22" >0.8</text>
<text transform="scale(0.81 1)" x="418.22 423.37 428.52 433.67 438.81" y="176.60" font-size="8.4" text-anchor="middle" fill="#141414" stroke="#141414" stroke-width="0.22" >Yeast</text>
<text transform="scale(0.81 1)" x="428.52" y="334.90" font-size="8.6" text-anchor="middle" fill="#141414" stroke="#141414" stroke-width="0.22" >β</text>
<text transform="translate(275.15,251.90) rotate(-90)" font-size="8.4" text-anchor="middle" fill="#141414">τ</text>
<text transform="scale(0.86 1)" x="455.70 461.51 467.33" y="188.20 189.30 188.20" font-size="12.3" text-anchor="middle" fill="#141414" stroke="#141414" stroke-width="0.25" >(f)</text>
<text transform="scale(0.81 1)" x="391.80 399.15 405.66 410.81 415.96 421.10 426.25 431.40 436.55" y="294.00" font-size="8.4" text-anchor="middle" fill="#ff3030" stroke="#ff3030" stroke-width="0.12" >βc = 0.18</text>
</g>
<g id="panel-g">
<clipPath id="cpg"><rect x="23.7" y="345.5" width="111.90" height="138.70"/></clipPath>
<g clip-path="url(#cpg)">
<polyline points="28.63,369.57 40.47,366.17 53.35,362.77 66.22,365.08 79.10,372.02 91.97,386.29 104.85,400.57 117.72,426.00 130.60,470.19" fill="none" stroke="#ff0000" stroke-width="1.08" stroke-linejoin="round"/>
<circle cx="28.63" cy="369.57" r="2.45" fill="#ff0000"/>
<circle cx="40.47" cy="366.17" r="2.45" fill="#ff0000"/>
<circle cx="53.35" cy="362.77" r="2.45" fill="#ff0000"/>
<circle cx="66.22" cy="365.08" r="2.45" fill="#ff0000"/>
<circle cx="79.10" cy="372.02" r="2.45" fill="#ff0000"/>
<circle cx="91.97" cy="386.29" r="2.45" fill="#ff0000"/>
<circle cx="104.85" cy="400.57" r="2.45" fill="#ff0000"/>
<circle cx="117.72" cy="426.00" r="2.45" fill="#ff0000"/>
<circle cx="130.60" cy="470.19" r="2.45" fill="#ff0000"/>
<polyline points="28.63,376.10 40.47,371.34 53.35,371.34 66.22,370.66 79.10,372.83 91.97,383.17 104.85,401.80 117.72,417.03 130.60,471.55" fill="none" stroke="#0000ff" stroke-width="1.08" stroke-linejoin="round"/>
<path d="M26.83 374.30L30.43 377.90M26.83 377.90L30.43 374.30" stroke="#0000ff" stroke-width="0.8" fill="none"/>
<path d="M38.67 369.54L42.27 373.14M38.67 373.14L42.27 369.54" stroke="#0000ff" stroke-width="0.8" fill="none"/>
<path d="M51.55 369.54L55.15 373.14M51.55 373.14L55.15 369.54" stroke="#0000ff" stroke-width="0.8" fill="none"/>
<path d="M64.42 368.86L68.02 372.46M64.42 372.46L68.02 368.86" stroke="#0000ff" stroke-width="0.8" fill="none"/>
<path d="M77.30 371.03L80.90 374.63M77.30 374.63L80.90 371.03" stroke="#0000ff" stroke-width="0.8" fill="none"/>
<path d="M90.17 381.37L93.77 384.97M90.17 384.97L93.77 381.37" stroke="#0000ff" stroke-width="0.8" fill="none"/>
<path d="M103.05 400.00L106.65 403.60M103.05 403.60L106.65 400.00" stroke="#0000ff" stroke-width="0.8" fill="none"/>
<path d="M115.92 415.23L119.52 418.83M115.92 418.83L119.52 415.23" stroke="#0000ff" stroke-width="0.8" fill="none"/>
<path d="M128.80 469.75L132.40 473.35M128.80 473.35L132.40 469.75" stroke="#0000ff" stroke-width="0.8" fill="none"/>
<polyline points="28.63,351.35 40.47,368.62 53.35,359.78 66.22,359.78 79.10,363.72 91.97,382.49 104.85,400.30 117.72,423.96 130.60,473.87" fill="none" stroke="#000000" stroke-width="1.08" stroke-linejoin="round"/>
<rect x="26.73" y="349.45" width="3.80" height="3.80" fill="#000000"/>
<rect x="38.57" y="366.72" width="3.80" height="3.80" fill="#000000"/>
<rect x="51.45" y="357.88" width="3.80" height="3.80" fill="#000000"/>
<rect x="64.32" y="357.88" width="3.80" height="3.80" fill="#000000"/>
<rect x="77.20" y="361.82" width="3.80" height="3.80" fill="#000000"/>
<rect x="90.07" y="380.59" width="3.80" height="3.80" fill="#000000"/>
<rect x="102.95" y="398.40" width="3.80" height="3.80" fill="#000000"/>
<rect x="115.82" y="422.06" width="3.80" height="3.80" fill="#000000"/>
<rect x="128.70" y="471.97" width="3.80" height="3.80" fill="#000000"/>
<polyline points="28.63,399.48 40.47,413.76 53.35,411.59 66.22,409.55 79.10,409.14 91.97,422.33 104.85,422.06 117.72,439.46 130.60,466.11" fill="none" stroke="#bfbf00" stroke-width="1.08" stroke-linejoin="round"/>
<polygon points="28.63,397.13 30.86,398.76 30.01,401.39 27.25,401.39 26.40,398.76" fill="#bfbf00"/>
<polygon points="40.47,411.41 42.71,413.04 41.86,415.66 39.09,415.66 38.24,413.04" fill="#bfbf00"/>
<polygon points="53.35,409.24 55.58,410.86 54.73,413.49 51.97,413.49 51.12,410.86" fill="#bfbf00"/>
<polygon points="66.22,407.20 68.46,408.82 67.61,411.45 64.84,411.45 63.99,408.82" fill="#bfbf00"/>
<polygon points="79.10,406.79 81.33,408.41 80.48,411.04 77.72,411.04 76.87,408.41" fill="#bfbf00"/>
<polygon points="91.97,419.98 94.21,421.60 93.36,424.23 90.59,424.23 89.74,421.60" fill="#bfbf00"/>
<polygon points="104.85,419.71 107.08,421.33 106.23,423.96 103.47,423.96 102.62,421.33" fill="#bfbf00"/>
<polygon points="117.72,437.11 119.96,438.74 119.11,441.36 116.34,441.36 115.49,438.74" fill="#bfbf00"/>
<polygon points="130.60,463.76 132.83,465.39 131.98,468.02 129.22,468.02 128.37,465.39" fill="#bfbf00"/>
<polyline points="28.63,396.49 40.47,387.25 53.35,392.82 66.22,395.00 79.10,399.08 91.97,407.37 104.85,413.63 117.72,435.11 130.60,468.83" fill="none" stroke="#ff00ff" stroke-width="1.08" stroke-linejoin="round"/>
<path d="M26.93 396.49L30.33 396.49M28.63 394.79L28.63 398.19" stroke="#ff00ff" stroke-width="0.8" fill="none"/>
<path d="M38.77 387.25L42.17 387.25M40.47 385.55L40.47 388.95" stroke="#ff00ff" stroke-width="0.8" fill="none"/>
<path d="M51.65 392.82L55.05 392.82M53.35 391.12L53.35 394.52" stroke="#ff00ff" stroke-width="0.8" fill="none"/>
<path d="M64.52 395.00L67.92 395.00M66.22 393.30L66.22 396.70" stroke="#ff00ff" stroke-width="0.8" fill="none"/>
<path d="M77.40 399.08L80.80 399.08M79.10 397.38L79.10 400.78" stroke="#ff00ff" stroke-width="0.8" fill="none"/>
<path d="M90.27 407.37L93.67 407.37M91.97 405.67L91.97 409.07" stroke="#ff00ff" stroke-width="0.8" fill="none"/>
<path d="M103.15 413.63L106.55 413.63M104.85 411.93L104.85 415.33" stroke="#ff00ff" stroke-width="0.8" fill="none"/>
<path d="M116.02 435.11L119.42 435.11M117.72 433.41L117.72 436.81" stroke="#ff00ff" stroke-width="0.8" fill="none"/>
<path d="M128.90 468.83L132.30 468.83M130.60 467.13L130.60 470.53" stroke="#ff00ff" stroke-width="0.8" fill="none"/>
<polyline points="28.63,379.09 40.47,360.32 53.35,365.76 66.22,371.34 79.10,378.00 91.97,390.92 104.85,409.14 117.72,428.45 130.60,478.62" fill="none" stroke="#00bfbf" stroke-width="1.08" stroke-linejoin="round"/>
<polygon points="28.63,376.19 30.38,379.09 28.63,381.99 26.88,379.09" fill="#00bfbf"/>
<polygon points="40.47,357.42 42.22,360.32 40.47,363.22 38.72,360.32" fill="#00bfbf"/>
<polygon points="53.35,362.86 55.10,365.76 53.35,368.66 51.60,365.76" fill="#00bfbf"/>
<polygon points="66.22,368.44 67.97,371.34 66.22,374.24 64.47,371.34" fill="#00bfbf"/>
<polygon points="79.10,375.10 80.85,378.00 79.10,380.90 77.35,378.00" fill="#00bfbf"/>
<polygon points="91.97,388.02 93.72,390.92 91.97,393.82 90.22,390.92" fill="#00bfbf"/>
<polygon points="104.85,406.24 106.60,409.14 104.85,412.04 103.10,409.14" fill="#00bfbf"/>
<polygon points="117.72,425.55 119.47,428.45 117.72,431.35 115.97,428.45" fill="#00bfbf"/>
<polygon points="130.60,475.72 132.35,478.62 130.60,481.52 128.85,478.62" fill="#00bfbf"/>
<polyline points="28.63,369.57 40.47,365.49 53.35,363.72 66.22,364.27 79.10,371.34 91.97,383.98 104.85,401.80 117.72,425.46 130.60,466.79" fill="none" stroke="#008000" stroke-width="1.08" stroke-linejoin="round"/>
<circle cx="28.63" cy="369.57" r="2.20" fill="#008000"/>
<circle cx="40.47" cy="365.49" r="2.20" fill="#008000"/>
<circle cx="53.35" cy="363.72" r="2.20" fill="#008000"/>
<circle cx="66.22" cy="364.27" r="2.20" fill="#008000"/>
<circle cx="79.10" cy="371.34" r="2.20" fill="#008000"/>
<circle cx="91.97" cy="383.98" r="2.20" fill="#008000"/>
<circle cx="104.85" cy="401.80" r="2.20" fill="#008000"/>
<circle cx="117.72" cy="425.46" r="2.20" fill="#008000"/>
<circle cx="130.60" cy="466.79" r="2.20" fill="#008000"/>
<polyline points="28.63,378.00 40.47,383.17 53.35,379.36 66.22,378.68 79.10,387.65 91.97,393.64 104.85,417.03 117.72,431.30 130.60,463.12" fill="none" stroke="#f97316" stroke-width="1.08" stroke-linejoin="round"/>
<polygon points="28.63,375.15 31.48,378.00 28.63,380.85 25.78,378.00" fill="#f97316"/>
<polygon points="40.47,380.32 43.32,383.17 40.47,386.02 37.62,383.17" fill="#f97316"/>
<polygon points="53.35,376.51 56.20,379.36 53.35,382.21 50.50,379.36" fill="#f97316"/>
<polygon points="66.22,375.83 69.07,378.68 66.22,381.53 63.37,378.68" fill="#f97316"/>
<polygon points="79.10,384.80 81.95,387.65 79.10,390.50 76.25,387.65" fill="#f97316"/>
<polygon points="91.97,390.79 94.82,393.64 91.97,396.49 89.12,393.64" fill="#f97316"/>
<polygon points="104.85,414.18 107.70,417.03 104.85,419.88 102.00,417.03" fill="#f97316"/>
<polygon points="117.72,428.45 120.57,431.30 117.72,434.15 114.88,431.30" fill="#f97316"/>
<polygon points="130.60,460.27 133.45,463.12 130.60,465.97 127.75,463.12" fill="#f97316"/>
<polyline points="28.63,375.82 40.47,363.18 53.35,367.94 66.22,371.06 79.10,379.50 91.97,391.87 104.85,410.23 117.72,429.13 130.60,468.29" fill="none" stroke="#999999" stroke-width="1.08" stroke-linejoin="round"/>
<circle cx="28.63" cy="375.82" r="1.80" fill="#999999"/>
<circle cx="40.47" cy="363.18" r="1.80" fill="#999999"/>
<circle cx="53.35" cy="367.94" r="1.80" fill="#999999"/>
<circle cx="66.22" cy="371.06" r="1.80" fill="#999999"/>
<circle cx="79.10" cy="379.50" r="1.80" fill="#999999"/>
<circle cx="91.97" cy="391.87" r="1.80" fill="#999999"/>
<circle cx="104.85" cy="410.23" r="1.80" fill="#999999"/>
<circle cx="117.72" cy="429.13" r="1.80" fill="#999999"/>
<circle cx="130.60" cy="468.29" r="1.80" fill="#999999"/>
<polyline points="28.63,353.25 40.47,367.66 53.35,362.09 66.22,362.50 79.10,366.58 91.97,379.36 104.85,403.97 117.72,426.95 130.60,464.75" fill="none" stroke="#ffa3b8" stroke-width="1.08" stroke-linejoin="round"/>
<polygon points="26.38,353.25 30.65,351.00 30.65,355.50" fill="#ffa3b8"/>
<polygon points="38.22,367.66 42.50,365.41 42.50,369.91" fill="#ffa3b8"/>
<polygon points="51.10,362.09 55.37,359.84 55.37,364.34" fill="#ffa3b8"/>
<polygon points="63.97,362.50 68.25,360.25 68.25,364.75" fill="#ffa3b8"/>
<polygon points="76.85,366.58 81.12,364.33 81.12,368.83" fill="#ffa3b8"/>
<polygon points="89.72,379.36 94.00,377.11 94.00,381.61" fill="#ffa3b8"/>
<polygon points="102.60,403.97 106.88,401.72 106.88,406.22" fill="#ffa3b8"/>
<polygon points="115.47,426.95 119.75,424.70 119.75,429.20" fill="#ffa3b8"/>
<polygon points="128.35,464.75 132.62,462.50 132.62,467.00" fill="#ffa3b8"/>
<line x1="36.15" y1="345.5" x2="36.15" y2="484.2" stroke="#ff3030" stroke-width="0.9" stroke-dasharray="2.2 1.2"/>
</g>
<rect x="23.7" y="345.5" width="111.90" height="138.70" fill="none" stroke="#808080" stroke-width="0.6"/>
<line x1="27.60" y1="484.2" x2="27.60" y2="486.0" stroke="#808080" stroke-width="0.5"/>
<text transform="scale(0.81 1)" x="28.93 34.07 39.22" y="493.30" font-size="8.4" text-anchor="middle" fill="#141414" stroke="#141414" stroke-width="0.22" >0.0</text>
<line x1="48.20" y1="484.2" x2="48.20" y2="486.0" stroke="#808080" stroke-width="0.5"/>
<text transform="scale(0.81 1)" x="54.36 59.51 64.65" y="493.30" font-size="8.4" text-anchor="middle" fill="#141414" stroke="#141414" stroke-width="0.22" >0.2</text>
<line x1="68.80" y1="484.2" x2="68.80" y2="486.0" stroke="#808080" stroke-width="0.5"/>
<text transform="scale(0.81 1)" x="79.79 84.94 90.09" y="493.30" font-size="8.4" text-anchor="middle" fill="#141414" stroke="#141414" stroke-width="0.22" >0.4</text>
<line x1="89.40" y1="484.2" x2="89.40" y2="486.0" stroke="#808080" stroke-width="0.5"/>
<text transform="scale(0.81 1)" x="105.22 110.37 115.52" y="493.30" font-size="8.4" text-anchor="middle" fill="#141414" stroke="#141414" stroke-width="0.22" >0.6</text>
<line x1="110.00" y1="484.2" x2="110.00" y2="486.0" stroke="#808080" stroke-width="0.5"/>
<text transform="scale(0.81 1)" x="130.65 135.80 140.95" y="493.30" font-size="8.4" text-anchor="middle" fill="#141414" stroke="#141414" stroke-width="0.22" >0.8</text>
<line x1="130.60" y1="484.2" x2="130.60" y2="486.0" stroke="#808080" stroke-width="0.5"/>
<text transform="scale(0.81 1)" x="156.09 161.23 166.38" y="493.30" font-size="8.4" text-anchor="middle" fill="#141414" stroke="#141414" stroke-width="0.22" >1.0</text>
<line x1="21.9" y1="478.35" x2="23.7" y2="478.35" stroke="#808080" stroke-width="0.5"/>
<text transform="scale(0.81 1)" x="13.06 18.20 23.35" y="481.25" font-size="8.4" text-anchor="middle" fill="#141414" stroke="#141414" stroke-width="0.22" >0.0</text>
<line x1="21.9" y1="451.16" x2="23.7" y2="451.16" stroke="#808080" stroke-width="0.5"/>
<text transform="scale(0.81 1)" x="13.06 18.20 23.35" y="454.06" font-size="8.4" text-anchor="middle" fill="#141414" stroke="#141414" stroke-width="0.22" >0.2</text>
<line x1="21.9" y1="423.96" x2="23.7" y2="423.96" stroke="#808080" stroke-width="0.5"/>
<text transform="scale(0.81 1)" x="13.06 18.20 23.35" y="426.86" font-size="8.4" text-anchor="middle" fill="#141414" stroke="#141414" stroke-width="0.22" >0.4</text>
<line x1="21.9" y1="396.76" x2="23.7" y2="396.76" stroke="#808080" stroke-width="0.5"/>
<text transform="scale(0.81 1)" x="13.06 18.20 23.35" y="399.66" font-size="8.4" text-anchor="middle" fill="#141414" stroke="#141414" stroke-width="0.22" >0.6</text>
<line x1="21.9" y1="369.57" x2="23.7" y2="369.57" stroke="#808080" stroke-width="0.5"/>
<text transform="scale(0.81 1)" x="13.06 18.20 23.35" y="372.47" font-size="8.4" text-anchor="middle" fill="#141414" stroke="#141414" stroke-width="0.22" >0.8</text>
<text transform="scale(0.81 1)" x="72.59 77.74 82.89 88.04 93.19 98.33 103.48 108.63 113.78 118.93 124.07" y="342.80" font-size="8.4" text-anchor="middle" fill="#141414" stroke="#141414" stroke-width="0.22" >Email-Enron</text>
<text transform="scale(0.81 1)" x="98.33" y="501.20" font-size="8.6" text-anchor="middle" fill="#141414" stroke="#141414" stroke-width="0.22" >β</text>
<text transform="translate(7.70,418.15) rotate(-90)" font-size="8.4" text-anchor="middle" fill="#141414">τ</text>
<text transform="scale(0.86 1)" x="144.71 150.52 156.34" y="354.20 355.30 354.20" font-size="12.3" text-anchor="middle" fill="#141414" stroke="#141414" stroke-width="0.25" >(g)</text>
<text transform="scale(0.81 1)" x="49.28 56.63 63.14 68.29 73.44 78.59 83.73 88.88 94.03 99.18" y="451.30" font-size="8.4" text-anchor="middle" fill="#ff3030" stroke="#ff3030" stroke-width="0.12" >βc = 0.083</text>
</g>
<g id="panel-h">
<clipPath id="cph"><rect x="157.7" y="345.5" width="111.90" height="138.70"/></clipPath>
<g clip-path="url(#cph)">
<polyline points="162.63,370.23 174.47,351.94 187.35,359.62 200.23,357.82 213.10,356.42 225.98,361.79 238.85,382.91 251.73,404.66 264.60,459.44" fill="none" stroke="#ff0000" stroke-width="1.08" stroke-linejoin="round"/>
<circle cx="162.63" cy="370.23" r="2.45" fill="#ff0000"/>
<circle cx="174.47" cy="351.94" r="2.45" fill="#ff0000"/>
<circle cx="187.35" cy="359.62" r="2.45" fill="#ff0000"/>
<circle cx="200.23" cy="357.82" r="2.45" fill="#ff0000"/>
<circle cx="213.10" cy="356.42" r="2.45" fill="#ff0000"/>
<circle cx="225.98" cy="361.79" r="2.45" fill="#ff0000"/>
<circle cx="238.85" cy="382.91" r="2.45" fill="#ff0000"/>
<circle cx="251.73" cy="404.66" r="2.45" fill="#ff0000"/>
<circle cx="264.60" cy="459.44" r="2.45" fill="#ff0000"/>
<polyline points="162.63,381.50 174.47,382.52 187.35,385.47 200.23,382.52 213.10,380.21 225.98,377.27 238.85,382.91 251.73,386.24 264.60,448.17" fill="none" stroke="#0000ff" stroke-width="1.08" stroke-linejoin="round"/>
<path d="M160.83 379.70L164.43 383.30M160.83 383.30L164.43 379.70" stroke="#0000ff" stroke-width="0.8" fill="none"/>
<path d="M172.67 380.72L176.28 384.32M172.67 384.32L176.28 380.72" stroke="#0000ff" stroke-width="0.8" fill="none"/>
<path d="M185.55 383.67L189.15 387.27M185.55 387.27L189.15 383.67" stroke="#0000ff" stroke-width="0.8" fill="none"/>
<path d="M198.43 380.72L202.03 384.32M198.43 384.32L202.03 380.72" stroke="#0000ff" stroke-width="0.8" fill="none"/>
<path d="M211.30 378.41L214.90 382.01M211.30 382.01L214.90 378.41" stroke="#0000ff" stroke-width="0.8" fill="none"/>
<path d="M224.18 375.47L227.78 379.07M224.18 379.07L227.78 375.47" stroke="#0000ff" stroke-width="0.8" fill="none"/>
<path d="M237.05 381.11L240.65 384.71M237.05 384.71L240.65 381.11" stroke="#0000ff" stroke-width="0.8" fill="none"/>
<path d="M249.93 384.44L253.53 388.04M249.93 388.04L253.53 384.44" stroke="#0000ff" stroke-width="0.8" fill="none"/>
<path d="M262.80 446.37L266.40 449.97M262.80 449.97L266.40 446.37" stroke="#0000ff" stroke-width="0.8" fill="none"/>
<polyline points="162.63,358.33 174.47,370.36 187.35,382.65 200.23,376.13 213.10,371.52 225.98,371.39 238.85,383.94 251.73,407.60 264.60,458.41" fill="none" stroke="#000000" stroke-width="1.08" stroke-linejoin="round"/>
<rect x="160.73" y="356.43" width="3.80" height="3.80" fill="#000000"/>
<rect x="172.57" y="368.46" width="3.80" height="3.80" fill="#000000"/>
<rect x="185.45" y="380.75" width="3.80" height="3.80" fill="#000000"/>
<rect x="198.33" y="374.23" width="3.80" height="3.80" fill="#000000"/>
<rect x="211.20" y="369.62" width="3.80" height="3.80" fill="#000000"/>
<rect x="224.08" y="369.49" width="3.80" height="3.80" fill="#000000"/>
<rect x="236.95" y="382.04" width="3.80" height="3.80" fill="#000000"/>
<rect x="249.83" y="405.70" width="3.80" height="3.80" fill="#000000"/>
<rect x="262.70" y="456.51" width="3.80" height="3.80" fill="#000000"/>
<polyline points="162.63,394.16 174.47,400.56 187.35,408.24 200.23,406.46 213.10,402.36 225.98,404.15 238.85,401.20 251.73,414.90 264.60,476.20" fill="none" stroke="#bfbf00" stroke-width="1.08" stroke-linejoin="round"/>
<polygon points="162.63,391.81 164.86,393.44 164.01,396.06 161.25,396.06 160.40,393.44" fill="#bfbf00"/>
<polygon points="174.47,398.21 176.71,399.84 175.86,402.46 173.09,402.46 172.24,399.84" fill="#bfbf00"/>
<polygon points="187.35,405.89 189.58,407.51 188.73,410.14 185.97,410.14 185.12,407.51" fill="#bfbf00"/>
<polygon points="200.23,404.11 202.46,405.73 201.61,408.36 198.84,408.36 197.99,405.73" fill="#bfbf00"/>
<polygon points="213.10,400.01 215.33,401.63 214.48,404.26 211.72,404.26 210.87,401.63" fill="#bfbf00"/>
<polygon points="225.98,401.80 228.21,403.43 227.36,406.06 224.59,406.06 223.74,403.43" fill="#bfbf00"/>
<polygon points="238.85,398.85 241.08,400.48 240.23,403.10 237.47,403.10 236.62,400.48" fill="#bfbf00"/>
<polygon points="251.73,412.55 253.96,414.18 253.11,416.80 250.34,416.80 249.49,414.18" fill="#bfbf00"/>
<polygon points="264.60,473.85 266.83,475.47 265.98,478.10 263.22,478.10 262.37,475.47" fill="#bfbf00"/>
<polyline points="162.63,407.60 174.47,394.16 187.35,386.88 200.23,389.82 213.10,392.76 225.98,399.29 238.85,408.24 251.73,417.07 264.60,462.00" fill="none" stroke="#ff00ff" stroke-width="1.08" stroke-linejoin="round"/>
<path d="M160.93 407.60L164.33 407.60M162.63 405.90L162.63 409.30" stroke="#ff00ff" stroke-width="0.8" fill="none"/>
<path d="M172.78 394.16L176.17 394.16M174.47 392.46L174.47 395.86" stroke="#ff00ff" stroke-width="0.8" fill="none"/>
<path d="M185.65 386.88L189.05 386.88M187.35 385.18L187.35 388.58" stroke="#ff00ff" stroke-width="0.8" fill="none"/>
<path d="M198.53 389.82L201.93 389.82M200.23 388.12L200.23 391.52" stroke="#ff00ff" stroke-width="0.8" fill="none"/>
<path d="M211.40 392.76L214.80 392.76M213.10 391.06L213.10 394.46" stroke="#ff00ff" stroke-width="0.8" fill="none"/>
<path d="M224.28 399.29L227.68 399.29M225.98 397.59L225.98 400.99" stroke="#ff00ff" stroke-width="0.8" fill="none"/>
<path d="M237.15 408.24L240.55 408.24M238.85 406.54L238.85 409.94" stroke="#ff00ff" stroke-width="0.8" fill="none"/>
<path d="M250.03 417.07L253.43 417.07M251.73 415.37L251.73 418.77" stroke="#ff00ff" stroke-width="0.8" fill="none"/>
<path d="M262.90 462.00L266.30 462.00M264.60 460.30L264.60 463.70" stroke="#ff00ff" stroke-width="0.8" fill="none"/>
<polyline points="162.63,412.73 174.47,387.64 187.35,376.13 200.23,384.44 213.10,390.84 225.98,399.42 238.85,417.21 251.73,430.01 264.60,454.70" fill="none" stroke="#00bfbf" stroke-width="1.08" stroke-linejoin="round"/>
<polygon points="162.63,409.83 164.38,412.73 162.63,415.63 160.88,412.73" fill="#00bfbf"/>
<polygon points="174.47,384.74 176.22,387.64 174.47,390.54 172.72,387.64" fill="#00bfbf"/>
<polygon points="187.35,373.23 189.10,376.13 187.35,379.03 185.60,376.13" fill="#00bfbf"/>
<polygon points="200.23,381.54 201.98,384.44 200.23,387.34 198.48,384.44" fill="#00bfbf"/>
<polygon points="213.10,387.94 214.85,390.84 213.10,393.74 211.35,390.84" fill="#00bfbf"/>
<polygon points="225.98,396.52 227.73,399.42 225.98,402.32 224.23,399.42" fill="#00bfbf"/>
<polygon points="238.85,414.31 240.60,417.21 238.85,420.11 237.10,417.21" fill="#00bfbf"/>
<polygon points="251.73,427.11 253.48,430.01 251.73,432.91 249.98,430.01" fill="#00bfbf"/>
<polygon points="264.60,451.80 266.35,454.70 264.60,457.60 262.85,454.70" fill="#00bfbf"/>
<polyline points="162.63,357.82 174.47,370.23 187.35,354.49 200.23,361.40 213.10,356.68 225.98,362.56 238.85,383.17 251.73,404.66 264.60,457.64" fill="none" stroke="#008000" stroke-width="1.08" stroke-linejoin="round"/>
<circle cx="162.63" cy="357.82" r="2.20" fill="#008000"/>
<circle cx="174.47" cy="370.23" r="2.20" fill="#008000"/>
<circle cx="187.35" cy="354.49" r="2.20" fill="#008000"/>
<circle cx="200.23" cy="361.40" r="2.20" fill="#008000"/>
<circle cx="213.10" cy="356.68" r="2.20" fill="#008000"/>
<circle cx="225.98" cy="362.56" r="2.20" fill="#008000"/>
<circle cx="238.85" cy="383.17" r="2.20" fill="#008000"/>
<circle cx="251.73" cy="404.66" r="2.20" fill="#008000"/>
<circle cx="264.60" cy="457.64" r="2.20" fill="#008000"/>
<polyline points="162.63,393.78 174.47,395.32 187.35,401.59 200.23,399.16 213.10,393.78 225.98,393.52 238.85,409.53 251.73,419.25 264.60,458.80" fill="none" stroke="#f97316" stroke-width="1.08" stroke-linejoin="round"/>
<polygon points="162.63,390.93 165.48,393.78 162.63,396.63 159.78,393.78" fill="#f97316"/>
<polygon points="174.47,392.47 177.32,395.32 174.47,398.17 171.62,395.32" fill="#f97316"/>
<polygon points="187.35,398.74 190.20,401.59 187.35,404.44 184.50,401.59" fill="#f97316"/>
<polygon points="200.23,396.31 203.08,399.16 200.23,402.01 197.38,399.16" fill="#f97316"/>
<polygon points="213.10,390.93 215.95,393.78 213.10,396.63 210.25,393.78" fill="#f97316"/>
<polygon points="225.98,390.67 228.83,393.52 225.98,396.37 223.13,393.52" fill="#f97316"/>
<polygon points="238.85,406.68 241.70,409.53 238.85,412.38 236.00,409.53" fill="#f97316"/>
<polygon points="251.73,416.40 254.58,419.25 251.73,422.10 248.88,419.25" fill="#f97316"/>
<polygon points="264.60,455.95 267.45,458.80 264.60,461.65 261.75,458.80" fill="#f97316"/>
<polyline points="162.63,386.49 174.47,367.80 187.35,361.15 200.23,364.73 213.10,370.23 225.98,376.64 238.85,393.28 251.73,411.19 264.60,459.82" fill="none" stroke="#999999" stroke-width="1.08" stroke-linejoin="round"/>
<circle cx="162.63" cy="386.49" r="1.80" fill="#999999"/>
<circle cx="174.47" cy="367.80" r="1.80" fill="#999999"/>
<circle cx="187.35" cy="361.15" r="1.80" fill="#999999"/>
<circle cx="200.23" cy="364.73" r="1.80" fill="#999999"/>
<circle cx="213.10" cy="370.23" r="1.80" fill="#999999"/>
<circle cx="225.98" cy="376.64" r="1.80" fill="#999999"/>
<circle cx="238.85" cy="393.28" r="1.80" fill="#999999"/>
<circle cx="251.73" cy="411.19" r="1.80" fill="#999999"/>
<circle cx="264.60" cy="459.82" r="1.80" fill="#999999"/>
<polyline points="162.63,359.36 174.47,369.60 187.35,383.17 200.23,377.66 213.10,372.16 225.98,373.17 238.85,383.54 251.73,407.60 264.60,460.21" fill="none" stroke="#ffa3b8" stroke-width="1.08" stroke-linejoin="round"/>
<polygon points="160.38,359.36 164.66,357.11 164.66,361.61" fill="#ffa3b8"/>
<polygon points="172.22,369.60 176.50,367.35 176.50,371.85" fill="#ffa3b8"/>
<polygon points="185.10,383.17 189.38,380.92 189.38,385.42" fill="#ffa3b8"/>
<polygon points="197.98,377.66 202.25,375.41 202.25,379.91" fill="#ffa3b8"/>
<polygon points="210.85,372.16 215.13,369.91 215.13,374.41" fill="#ffa3b8"/>
<polygon points="223.73,373.17 228.00,370.92 228.00,375.42" fill="#ffa3b8"/>
<polygon points="236.60,383.54 240.88,381.29 240.88,385.79" fill="#ffa3b8"/>
<polygon points="249.48,407.60 253.75,405.35 253.75,409.85" fill="#ffa3b8"/>
<polygon points="262.35,460.21 266.62,457.96 266.62,462.46" fill="#ffa3b8"/>
<line x1="179.32" y1="345.5" x2="179.32" y2="484.2" stroke="#ff3030" stroke-width="0.9" stroke-dasharray="2.2 1.2"/>
</g>
<rect x="157.7" y="345.5" width="111.90" height="138.70" fill="none" stroke="#808080" stroke-width="0.6"/>
<line x1="161.60" y1="484.2" x2="161.60" y2="486.0" stroke="#808080" stroke-width="0.5"/>
<text transform="scale(0.81 1)" x="194.36 199.51 204.65" y="493.30" font-size="8.4" text-anchor="middle" fill="#141414" stroke="#141414" stroke-width="0.22" >0.0</text>
<line x1="182.20" y1="484.2" x2="182.20" y2="486.0" stroke="#808080" stroke-width="0.5"/>
<text transform="scale(0.81 1)" x="219.79 224.94 230.09" y="493.30" font-size="8.4" text-anchor="middle" fill="#141414" stroke="#141414" stroke-width="0.22" >0.2</text>
<line x1="202.80" y1="484.2" x2="202.80" y2="486.0" stroke="#808080" stroke-width="0.5"/>
<text transform="scale(0.81 1)" x="245.22 250.37 255.52" y="493.30" font-size="8.4" text-anchor="middle" fill="#141414" stroke="#141414" stroke-width="0.22" >0.4</text>
<line x1="223.40" y1="484.2" x2="223.40" y2="486.0" stroke="#808080" stroke-width="0.5"/>
<text transform="scale(0.81 1)" x="270.65 275.80 280.95" y="493.30" font-size="8.4" text-anchor="middle" fill="#141414" stroke="#141414" stroke-width="0.22" >0.6</text>
<line x1="244.00" y1="484.2" x2="244.00" y2="486.0" stroke="#808080" stroke-width="0.5"/>
<text transform="scale(0.81 1)" x="296.09 301.23 306.38" y="493.30" font-size="8.4" text-anchor="middle" fill="#141414" stroke="#141414" stroke-width="0.22" >0.8</text>
<line x1="264.60" y1="484.2" x2="264.60" y2="486.0" stroke="#808080" stroke-width="0.5"/>
<text transform="scale(0.81 1)" x="321.52 326.67 331.81" y="493.30" font-size="8.4" text-anchor="middle" fill="#141414" stroke="#141414" stroke-width="0.22" >1.0</text>
<line x1="155.89999999999998" y1="475.22" x2="157.7" y2="475.22" stroke="#808080" stroke-width="0.5"/>
<text transform="scale(0.81 1)" x="178.49 183.64 188.78" y="478.12" font-size="8.4" text-anchor="middle" fill="#141414" stroke="#141414" stroke-width="0.22" >0.0</text>
<line x1="155.89999999999998" y1="449.20" x2="157.7" y2="449.20" stroke="#808080" stroke-width="0.5"/>
<text transform="scale(0.81 1)" x="178.49 183.64 188.78" y="452.10" font-size="8.4" text-anchor="middle" fill="#141414" stroke="#141414" stroke-width="0.22" >0.2</text>
<line x1="155.89999999999998" y1="423.18" x2="157.7" y2="423.18" stroke="#808080" stroke-width="0.5"/>
<text transform="scale(0.81 1)" x="178.49 183.64 188.78" y="426.08" font-size="8.4" text-anchor="middle" fill="#141414" stroke="#141414" stroke-width="0.22" >0.4</text>
<line x1="155.89999999999998" y1="397.15" x2="157.7" y2="397.15" stroke="#808080" stroke-width="0.5"/>
<text transform="scale(0.81 1)" x="178.49 183.64 188.78" y="400.05" font-size="8.4" text-anchor="middle" fill="#141414" stroke="#141414" stroke-width="0.22" >0.6</text>
<line x1="155.89999999999998" y1="371.13" x2="157.7" y2="371.13" stroke="#808080" stroke-width="0.5"/>
<text transform="scale(0.81 1)" x="178.49 183.64 188.78" y="374.03" font-size="8.4" text-anchor="middle" fill="#141414" stroke="#141414" stroke-width="0.22" >0.8</text>
<text transform="scale(0.81 1)" x="245.75 250.90 256.04 261.19 266.34 271.49 276.64 281.78" y="342.80" font-size="8.4" text-anchor="middle" fill="#141414" stroke="#141414" stroke-width="0.22" >Dolphins</text>
<text transform="scale(0.81 1)" x="263.77" y="501.20" font-size="8.6" text-anchor="middle" fill="#141414" stroke="#141414" stroke-width="0.22" >β</text>
<text transform="translate(141.70,418.15) rotate(-90)" font-size="8.4" text-anchor="middle" fill="#141414">τ</text>
<text transform="scale(0.86 1)" x="300.52 306.34 312.15" y="355.70 356.80 355.70" font-size="12.3" text-anchor="middle" fill="#141414" stroke="#141414" stroke-width="0.25" >(h)</text>
<text transform="scale(0.81 1)" x="226.03 233.38 239.89 245.04 250.19 255.33 260.48 265.63 270.78 275.93" y="448.80" font-size="8.4" text-anchor="middle" fill="#ff3030" stroke="#ff3030" stroke-width="0.12" >βc = 0.172</text>
</g>
<g id="panel-i">
<clipPath id="cpi"><rect x="291.15" y="345.5" width="111.90" height="138.70"/></clipPath>
<g clip-path="url(#cpi)">
<polyline points="296.08,358.14 307.92,357.87 320.80,352.01 333.67,355.27 346.55,362.56 359.42,372.20 372.30,392.00 385.17,441.50 398.05,441.50" fill="none" stroke="#ff0000" stroke-width="1.08" stroke-linejoin="round"/>
<circle cx="296.08" cy="358.14" r="2.45" fill="#ff0000"/>
<circle cx="307.92" cy="357.87" r="2.45" fill="#ff0000"/>
<circle cx="320.80" cy="352.01" r="2.45" fill="#ff0000"/>
<circle cx="333.67" cy="355.27" r="2.45" fill="#ff0000"/>
<circle cx="346.55" cy="362.56" r="2.45" fill="#ff0000"/>
<circle cx="359.42" cy="372.20" r="2.45" fill="#ff0000"/>
<circle cx="372.30" cy="392.00" r="2.45" fill="#ff0000"/>
<circle cx="385.17" cy="441.50" r="2.45" fill="#ff0000"/>
<circle cx="398.05" cy="441.50" r="2.45" fill="#ff0000"/>
<polyline points="296.08,383.93 307.92,377.28 320.80,374.68 333.67,378.72 346.55,383.54 359.42,383.93 372.30,397.86 385.17,433.42 398.05,449.71" fill="none" stroke="#0000ff" stroke-width="1.08" stroke-linejoin="round"/>
<path d="M294.28 382.13L297.88 385.73M294.28 385.73L297.88 382.13" stroke="#0000ff" stroke-width="0.8" fill="none"/>
<path d="M306.12 375.48L309.72 379.08M306.12 379.08L309.72 375.48" stroke="#0000ff" stroke-width="0.8" fill="none"/>
<path d="M319.00 372.88L322.60 376.48M319.00 376.48L322.60 372.88" stroke="#0000ff" stroke-width="0.8" fill="none"/>
<path d="M331.87 376.92L335.47 380.52M331.87 380.52L335.47 376.92" stroke="#0000ff" stroke-width="0.8" fill="none"/>
<path d="M344.75 381.74L348.35 385.34M344.75 385.34L348.35 381.74" stroke="#0000ff" stroke-width="0.8" fill="none"/>
<path d="M357.62 382.13L361.22 385.73M357.62 385.73L361.22 382.13" stroke="#0000ff" stroke-width="0.8" fill="none"/>
<path d="M370.50 396.06L374.10 399.66M370.50 399.66L374.10 396.06" stroke="#0000ff" stroke-width="0.8" fill="none"/>
<path d="M383.37 431.62L386.97 435.22M383.37 435.22L386.97 431.62" stroke="#0000ff" stroke-width="0.8" fill="none"/>
<path d="M396.25 447.91L399.85 451.51M396.25 451.51L399.85 447.91" stroke="#0000ff" stroke-width="0.8" fill="none"/>
<polyline points="296.08,354.49 307.92,371.42 320.80,364.78 333.67,357.48 346.55,356.70 359.42,366.21 372.30,384.71 385.17,437.85 398.05,439.29" fill="none" stroke="#000000" stroke-width="1.08" stroke-linejoin="round"/>
<rect x="294.18" y="352.59" width="3.80" height="3.80" fill="#000000"/>
<rect x="306.02" y="369.52" width="3.80" height="3.80" fill="#000000"/>
<rect x="318.90" y="362.88" width="3.80" height="3.80" fill="#000000"/>
<rect x="331.77" y="355.58" width="3.80" height="3.80" fill="#000000"/>
<rect x="344.65" y="354.80" width="3.80" height="3.80" fill="#000000"/>
<rect x="357.52" y="364.31" width="3.80" height="3.80" fill="#000000"/>
<rect x="370.40" y="382.81" width="3.80" height="3.80" fill="#000000"/>
<rect x="383.27" y="435.95" width="3.80" height="3.80" fill="#000000"/>
<rect x="396.15" y="437.39" width="3.80" height="3.80" fill="#000000"/>
<polyline points="296.08,412.06 307.92,423.53 320.80,418.71 333.67,414.80 346.55,410.89 359.42,416.49 372.30,423.00 385.17,449.06 398.05,433.03" fill="none" stroke="#bfbf00" stroke-width="1.08" stroke-linejoin="round"/>
<polygon points="296.08,409.71 298.31,411.34 297.46,413.96 294.70,413.96 293.85,411.34" fill="#bfbf00"/>
<polygon points="307.92,421.18 310.16,422.80 309.31,425.43 306.54,425.43 305.69,422.80" fill="#bfbf00"/>
<polygon points="320.80,416.36 323.03,417.98 322.18,420.61 319.42,420.61 318.57,417.98" fill="#bfbf00"/>
<polygon points="333.67,412.45 335.91,414.07 335.06,416.70 332.29,416.70 331.44,414.07" fill="#bfbf00"/>
<polygon points="346.55,408.54 348.78,410.16 347.93,412.79 345.17,412.79 344.32,410.16" fill="#bfbf00"/>
<polygon points="359.42,414.14 361.66,415.77 360.81,418.39 358.04,418.39 357.19,415.77" fill="#bfbf00"/>
<polygon points="372.30,420.65 374.53,422.28 373.68,424.91 370.92,424.91 370.07,422.28" fill="#bfbf00"/>
<polygon points="385.17,446.71 387.41,448.33 386.56,450.96 383.79,450.96 382.94,448.33" fill="#bfbf00"/>
<polygon points="398.05,430.68 400.28,432.31 399.43,434.94 396.67,434.94 395.82,432.31" fill="#bfbf00"/>
<polyline points="296.08,419.36 307.92,420.53 320.80,419.10 333.67,419.23 346.55,420.01 359.42,421.44 372.30,432.77 385.17,458.43 398.05,386.92" fill="none" stroke="#ff00ff" stroke-width="1.08" stroke-linejoin="round"/>
<path d="M294.38 419.36L297.78 419.36M296.08 417.66L296.08 421.06" stroke="#ff00ff" stroke-width="0.8" fill="none"/>
<path d="M306.22 420.53L309.62 420.53M307.92 418.83L307.92 422.23" stroke="#ff00ff" stroke-width="0.8" fill="none"/>
<path d="M319.10 419.10L322.50 419.10M320.80 417.40L320.80 420.80" stroke="#ff00ff" stroke-width="0.8" fill="none"/>
<path d="M331.97 419.23L335.37 419.23M333.67 417.53L333.67 420.93" stroke="#ff00ff" stroke-width="0.8" fill="none"/>
<path d="M344.85 420.01L348.25 420.01M346.55 418.31L346.55 421.71" stroke="#ff00ff" stroke-width="0.8" fill="none"/>
<path d="M357.72 421.44L361.12 421.44M359.42 419.74L359.42 423.14" stroke="#ff00ff" stroke-width="0.8" fill="none"/>
<path d="M370.60 432.77L374.00 432.77M372.30 431.07L372.30 434.47" stroke="#ff00ff" stroke-width="0.8" fill="none"/>
<path d="M383.47 458.43L386.87 458.43M385.17 456.73L385.17 460.13" stroke="#ff00ff" stroke-width="0.8" fill="none"/>
<path d="M396.35 386.92L399.75 386.92M398.05 385.22L398.05 388.62" stroke="#ff00ff" stroke-width="0.8" fill="none"/>
<polyline points="296.08,403.20 307.92,393.83 320.80,398.65 333.67,403.73 346.55,407.50 359.42,411.41 372.30,423.53 385.17,457.00 398.05,478.10" fill="none" stroke="#00bfbf" stroke-width="1.08" stroke-linejoin="round"/>
<polygon points="296.08,400.30 297.83,403.20 296.08,406.10 294.33,403.20" fill="#00bfbf"/>
<polygon points="307.92,390.93 309.67,393.83 307.92,396.73 306.17,393.83" fill="#00bfbf"/>
<polygon points="320.80,395.75 322.55,398.65 320.80,401.55 319.05,398.65" fill="#00bfbf"/>
<polygon points="333.67,400.83 335.42,403.73 333.67,406.63 331.92,403.73" fill="#00bfbf"/>
<polygon points="346.55,404.60 348.30,407.50 346.55,410.40 344.80,407.50" fill="#00bfbf"/>
<polygon points="359.42,408.51 361.17,411.41 359.42,414.31 357.67,411.41" fill="#00bfbf"/>
<polygon points="372.30,420.63 374.05,423.53 372.30,426.43 370.55,423.53" fill="#00bfbf"/>
<polygon points="385.17,454.10 386.92,457.00 385.17,459.90 383.42,457.00" fill="#00bfbf"/>
<polygon points="398.05,475.20 399.80,478.10 398.05,481.00 396.30,478.10" fill="#00bfbf"/>
<polyline points="296.08,356.70 307.92,364.78 320.80,357.87 333.67,354.49 346.55,359.31 359.42,370.25 372.30,390.31 385.17,443.06 398.05,443.06" fill="none" stroke="#008000" stroke-width="1.08" stroke-linejoin="round"/>
<circle cx="296.08" cy="356.70" r="2.20" fill="#008000"/>
<circle cx="307.92" cy="364.78" r="2.20" fill="#008000"/>
<circle cx="320.80" cy="357.87" r="2.20" fill="#008000"/>
<circle cx="333.67" cy="354.49" r="2.20" fill="#008000"/>
<circle cx="346.55" cy="359.31" r="2.20" fill="#008000"/>
<circle cx="359.42" cy="370.25" r="2.20" fill="#008000"/>
<circle cx="372.30" cy="390.31" r="2.20" fill="#008000"/>
<circle cx="385.17" cy="443.06" r="2.20" fill="#008000"/>
<circle cx="398.05" cy="443.06" r="2.20" fill="#008000"/>
<polyline points="296.08,381.45 307.92,391.35 320.80,385.88 333.67,383.93 346.55,383.14 359.42,388.36 372.30,400.60 385.17,450.36 398.05,440.33" fill="none" stroke="#f97316" stroke-width="1.08" stroke-linejoin="round"/>
<polygon points="296.08,378.60 298.93,381.45 296.08,384.30 293.23,381.45" fill="#f97316"/>
<polygon points="307.92,388.50 310.77,391.35 307.92,394.20 305.07,391.35" fill="#f97316"/>
<polygon points="320.80,383.03 323.65,385.88 320.80,388.73 317.95,385.88" fill="#f97316"/>
<polygon points="333.67,381.08 336.52,383.93 333.67,386.78 330.82,383.93" fill="#f97316"/>
<polygon points="346.55,380.29 349.40,383.14 346.55,385.99 343.70,383.14" fill="#f97316"/>
<polygon points="359.42,385.51 362.27,388.36 359.42,391.21 356.57,388.36" fill="#f97316"/>
<polygon points="372.30,397.75 375.15,400.60 372.30,403.45 369.45,400.60" fill="#f97316"/>
<polygon points="385.17,447.51 388.02,450.36 385.17,453.21 382.32,450.36" fill="#f97316"/>
<polygon points="398.05,437.48 400.90,440.33 398.05,443.18 395.20,440.33" fill="#f97316"/>
<polyline points="296.08,378.06 307.92,374.03 320.80,375.07 333.67,377.28 346.55,381.71 359.42,388.75 372.30,404.51 385.17,446.71 398.05,436.42" fill="none" stroke="#999999" stroke-width="1.08" stroke-linejoin="round"/>
<circle cx="296.08" cy="378.06" r="1.80" fill="#999999"/>
<circle cx="307.92" cy="374.03" r="1.80" fill="#999999"/>
<circle cx="320.80" cy="375.07" r="1.80" fill="#999999"/>
<circle cx="333.67" cy="377.28" r="1.80" fill="#999999"/>
<circle cx="346.55" cy="381.71" r="1.80" fill="#999999"/>
<circle cx="359.42" cy="388.75" r="1.80" fill="#999999"/>
<circle cx="372.30" cy="404.51" r="1.80" fill="#999999"/>
<circle cx="385.17" cy="446.71" r="1.80" fill="#999999"/>
<circle cx="398.05" cy="436.42" r="1.80" fill="#999999"/>
<polyline points="296.08,358.14 307.92,370.64 320.80,363.35 333.67,356.70 346.55,358.40 359.42,367.77 372.30,386.14 385.17,438.90 398.05,444.50" fill="none" stroke="#ffa3b8" stroke-width="1.08" stroke-linejoin="round"/>
<polygon points="293.83,358.14 298.10,355.89 298.10,360.39" fill="#ffa3b8"/>
<polygon points="305.67,370.64 309.95,368.39 309.95,372.89" fill="#ffa3b8"/>
<polygon points="318.55,363.35 322.82,361.10 322.82,365.60" fill="#ffa3b8"/>
<polygon points="331.42,356.70 335.70,354.45 335.70,358.95" fill="#ffa3b8"/>
<polygon points="344.30,358.40 348.57,356.15 348.57,360.65" fill="#ffa3b8"/>
<polygon points="357.17,367.77 361.45,365.52 361.45,370.02" fill="#ffa3b8"/>
<polygon points="370.05,386.14 374.32,383.89 374.32,388.39" fill="#ffa3b8"/>
<polygon points="382.92,438.90 387.20,436.65 387.20,441.15" fill="#ffa3b8"/>
<polygon points="395.80,444.50 400.07,442.25 400.07,446.75" fill="#ffa3b8"/>
<line x1="304.42" y1="345.5" x2="304.42" y2="484.2" stroke="#ff3030" stroke-width="0.9" stroke-dasharray="2.2 1.2"/>
</g>
<rect x="291.15" y="345.5" width="111.90" height="138.70" fill="none" stroke="#808080" stroke-width="0.6"/>
<line x1="295.05" y1="484.2" x2="295.05" y2="486.0" stroke="#808080" stroke-width="0.5"/>
<text transform="scale(0.81 1)" x="359.11 364.26 369.41" y="493.30" font-size="8.4" text-anchor="middle" fill="#141414" stroke="#141414" stroke-width="0.22" >0.0</text>
<line x1="315.65" y1="484.2" x2="315.65" y2="486.0" stroke="#808080" stroke-width="0.5"/>
<text transform="scale(0.81 1)" x="384.54 389.69 394.84" y="493.30" font-size="8.4" text-anchor="middle" fill="#141414" stroke="#141414" stroke-width="0.22" >0.2</text>
<line x1="336.25" y1="484.2" x2="336.25" y2="486.0" stroke="#808080" stroke-width="0.5"/>
<text transform="scale(0.81 1)" x="409.98 415.12 420.27" y="493.30" font-size="8.4" text-anchor="middle" fill="#141414" stroke="#141414" stroke-width="0.22" >0.4</text>
<line x1="356.85" y1="484.2" x2="356.85" y2="486.0" stroke="#808080" stroke-width="0.5"/>
<text transform="scale(0.81 1)" x="435.41 440.56 445.70" y="493.30" font-size="8.4" text-anchor="middle" fill="#141414" stroke="#141414" stroke-width="0.22" >0.6</text>
<line x1="377.45" y1="484.2" x2="377.45" y2="486.0" stroke="#808080" stroke-width="0.5"/>
<text transform="scale(0.81 1)" x="460.84 465.99 471.14" y="493.30" font-size="8.4" text-anchor="middle" fill="#141414" stroke="#141414" stroke-width="0.22" >0.8</text>
<line x1="398.05" y1="484.2" x2="398.05" y2="486.0" stroke="#808080" stroke-width="0.5"/>
<text transform="scale(0.81 1)" x="486.27 491.42 496.57" y="493.30" font-size="8.4" text-anchor="middle" fill="#141414" stroke="#141414" stroke-width="0.22" >1.0</text>
<line x1="289.34999999999997" y1="471.20" x2="291.15" y2="471.20" stroke="#808080" stroke-width="0.5"/>
<text transform="scale(0.81 1)" x="343.24 348.39 353.54" y="474.10" font-size="8.4" text-anchor="middle" fill="#141414" stroke="#141414" stroke-width="0.22" >0.0</text>
<line x1="289.34999999999997" y1="445.15" x2="291.15" y2="445.15" stroke="#808080" stroke-width="0.5"/>
<text transform="scale(0.81 1)" x="343.24 348.39 353.54" y="448.05" font-size="8.4" text-anchor="middle" fill="#141414" stroke="#141414" stroke-width="0.22" >0.2</text>
<line x1="289.34999999999997" y1="419.10" x2="291.15" y2="419.10" stroke="#808080" stroke-width="0.5"/>
<text transform="scale(0.81 1)" x="343.24 348.39 353.54" y="422.00" font-size="8.4" text-anchor="middle" fill="#141414" stroke="#141414" stroke-width="0.22" >0.4</text>
<line x1="289.34999999999997" y1="393.04" x2="291.15" y2="393.04" stroke="#808080" stroke-width="0.5"/>
<text transform="scale(0.81 1)" x="343.24 348.39 353.54" y="395.94" font-size="8.4" text-anchor="middle" fill="#141414" stroke="#141414" stroke-width="0.22" >0.6</text>
<line x1="289.34999999999997" y1="366.99" x2="291.15" y2="366.99" stroke="#808080" stroke-width="0.5"/>
<text transform="scale(0.81 1)" x="343.24 348.39 353.54" y="369.89" font-size="8.4" text-anchor="middle" fill="#141414" stroke="#141414" stroke-width="0.22" >0.8</text>
<text transform="scale(0.81 1)" x="410.50 415.65 420.80 425.94 431.09 436.24 441.39 446.54" y="342.80" font-size="8.4" text-anchor="middle" fill="#141414" stroke="#141414" stroke-width="0.22" >PolBooks</text>
<text transform="scale(0.81 1)" x="428.52" y="501.20" font-size="8.6" text-anchor="middle" fill="#141414" stroke="#141414" stroke-width="0.22" >β</text>
<text transform="translate(275.15,418.15) rotate(-90)" font-size="8.4" text-anchor="middle" fill="#141414">τ</text>
<text transform="scale(0.86 1)" x="455.70 461.51 467.33" y="358.70 359.80 358.70" font-size="12.3" text-anchor="middle" fill="#141414" stroke="#141414" stroke-width="0.25" >(i)</text>
<text transform="scale(0.81 1)" x="380.49 387.84 394.34 399.49 404.64 409.79 414.94 420.08 425.23 430.38" y="445.00" font-size="8.4" text-anchor="middle" fill="#ff3030" stroke="#ff3030" stroke-width="0.12" >βc = 0.091</text>
</g>
<g id="legend"><rect x="63" y="509.0" width="280.4" height="36.799999999999955" rx="1.6" fill="#fff" stroke="#d4d4d4" stroke-width="0.7"/>
<line x1="65.9" y1="516.5" x2="83.9" y2="516.5" stroke="#ff0000" stroke-width="1"/>
<circle cx="74.90" cy="516.50" r="2.45" fill="#ff0000"/>
<text transform="scale(0.81 1)" x="113.56 118.71" y="519.40" font-size="8.4" text-anchor="middle" fill="#141414" stroke="#141414" stroke-width="0.22" >PE</text>
<line x1="65.9" y1="527.7" x2="83.9" y2="527.7" stroke="#0000ff" stroke-width="1"/>
<path d="M73.10 525.90L76.70 529.50M73.10 529.50L76.70 525.90" stroke="#0000ff" stroke-width="0.8" fill="none"/>
<text transform="scale(0.81 1)" x="113.56 118.71 123.86 129.01 134.15 139.30 144.45 149.60 154.75" y="530.60" font-size="8.4" text-anchor="middle" fill="#141414" stroke="#141414" stroke-width="0.22" >K-shell++</text>
<line x1="65.9" y1="538.9" x2="83.9" y2="538.9" stroke="#000000" stroke-width="1"/>
<rect x="73.00" y="537.00" width="3.80" height="3.80" fill="#000000"/>
<text transform="scale(0.81 1)" x="113.56 118.71 123.86 129.01 134.15 139.30" y="541.80" font-size="8.4" text-anchor="middle" fill="#141414" stroke="#141414" stroke-width="0.22" >Degree</text>
<line x1="145.1" y1="516.5" x2="163.1" y2="516.5" stroke="#bfbf00" stroke-width="1"/>
<polygon points="154.10,514.15 156.33,515.77 155.48,518.40 152.72,518.40 151.87,515.77" fill="#bfbf00"/>
<text transform="scale(0.81 1)" x="211.34 216.49 221.64 226.78 231.93 237.08 242.23 247.38 252.52 257.67 262.82" y="519.40" font-size="8.4" text-anchor="middle" fill="#141414" stroke="#141414" stroke-width="0.22" >Betweenness</text>
<line x1="145.1" y1="527.7" x2="163.1" y2="527.7" stroke="#ff00ff" stroke-width="1"/>
<path d="M152.40 527.70L155.80 527.70M154.10 526.00L154.10 529.40" stroke="#ff00ff" stroke-width="0.8" fill="none"/>
<text transform="scale(0.81 1)" x="211.34 216.49 221.64 226.78 231.93 237.08 242.23 247.38 252.52" y="530.60" font-size="8.4" text-anchor="middle" fill="#141414" stroke="#141414" stroke-width="0.22" >Closeness</text>
<line x1="145.1" y1="538.9" x2="163.1" y2="538.9" stroke="#00bfbf" stroke-width="1"/>
<polygon points="154.10,536.00 155.85,538.90 154.10,541.80 152.35,538.90" fill="#00bfbf"/>
<text transform="scale(0.81 1)" x="211.34 216.49 221.64 226.78 231.93 237.08 242.23 247.38 252.52 257.67 262.82" y="541.80" font-size="8.4" text-anchor="middle" fill="#141414" stroke="#141414" stroke-width="0.22" >Eigenvector</text>
<line x1="232.7" y1="516.5" x2="250.7" y2="516.5" stroke="#008000" stroke-width="1"/>
<circle cx="241.70" cy="516.50" r="2.20" fill="#008000"/>
<text transform="scale(0.81 1)" x="319.49 324.64 329.78 334.93 340.08 345.23" y="519.40" font-size="8.4" text-anchor="middle" fill="#141414" stroke="#141414" stroke-width="0.22" >PE(N2)</text>
<line x1="232.7" y1="527.7" x2="250.7" y2="527.7" stroke="#f97316" stroke-width="1"/>
<polygon points="241.70,524.85 244.55,527.70 241.70,530.55 238.85,527.70" fill="#f97316"/>
<text transform="scale(0.81 1)" x="319.49 324.64 329.78 334.93 340.08 345.23 350.38" y="530.60" font-size="8.4" text-anchor="middle" fill="#141414" stroke="#141414" stroke-width="0.22" >H-index</text>
<line x1="303.3" y1="516.5" x2="321.3" y2="516.5" stroke="#999999" stroke-width="1"/>
<circle cx="312.30" cy="516.50" r="1.80" fill="#999999"/>
<text transform="scale(0.81 1)" x="406.65 411.80 416.94" y="519.40" font-size="8.4" text-anchor="middle" fill="#141414" stroke="#141414" stroke-width="0.22" >GIN</text>
<line x1="303.3" y1="527.7" x2="321.3" y2="527.7" stroke="#ffa3b8" stroke-width="1"/>
<polygon points="310.05,527.70 314.32,525.45 314.32,529.95" fill="#ffa3b8"/>
<text transform="scale(0.81 1)" x="406.65 411.80 416.94" y="530.60" font-size="8.4" text-anchor="middle" fill="#141414" stroke="#141414" stroke-width="0.22" >LGC</text>
</g>
</svg>
</body></html>
